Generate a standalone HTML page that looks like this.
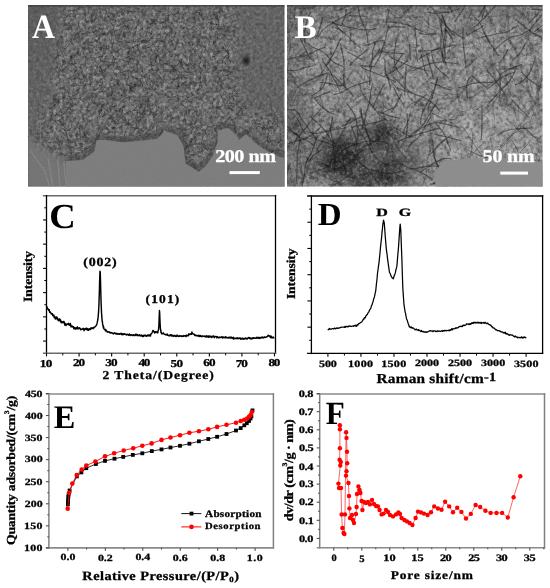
<!DOCTYPE html>
<html><head><meta charset="utf-8"><title>Figure</title>
<style>html,body{margin:0;padding:0;background:#fff;width:550px;height:588px;overflow:hidden}svg{display:block}</style>
</head><body>
<svg width="550" height="588" viewBox="0 0 550 588" font-family="'Liberation Serif', 'Times New Roman', serif" text-rendering="geometricPrecision">
<rect width="550" height="588" fill="#fff"/>
<defs>
<clipPath id="cA"><rect x="28" y="5" width="256.5" height="181.5"/></clipPath>
<clipPath id="cB"><rect x="287" y="5" width="255.5" height="181.5"/></clipPath>
<filter id="fD" x="0" y="0" width="100%" height="100%"><feTurbulence type="fractalNoise" baseFrequency="0.3" numOctaves="3" seed="4"/><feColorMatrix type="matrix" values="0 0 0 0 0  0 0 0 0 0  0 0 0 0 0  1.3 0 0 0 -0.55"/><feGaussianBlur stdDeviation="0.45"/></filter>
<filter id="fL" x="0" y="0" width="100%" height="100%"><feTurbulence type="fractalNoise" baseFrequency="0.3" numOctaves="3" seed="9"/><feColorMatrix type="matrix" values="0 0 0 0 1  0 0 0 0 1  0 0 0 0 1  1.1 0 0 0 -0.5"/><feGaussianBlur stdDeviation="0.45"/></filter>
<filter id="fM" x="0" y="0" width="100%" height="100%"><feTurbulence type="fractalNoise" baseFrequency="0.08" numOctaves="2" seed="21"/><feColorMatrix type="matrix" values="0 0 0 0 0  0 0 0 0 0  0 0 0 0 0  1.2 0 0 0 -0.5"/></filter>
<filter id="fS" x="0" y="0" width="100%" height="100%"><feTurbulence type="fractalNoise" baseFrequency="0.7" numOctaves="1" seed="12"/><feColorMatrix type="matrix" values="0 0 0 0 0.5  0 0 0 0 0.5  0 0 0 0 0.5  0.8 0 0 0 -0.3"/></filter>
<filter id="tA" x="0" y="0" width="100%" height="100%"><feTurbulence type="turbulence" baseFrequency="0.07" numOctaves="2" seed="3"/><feColorMatrix type="matrix" values="0 0 0 0 0  0 0 0 0 0  0 0 0 0 0  -6 0 0 0 0.6"/><feGaussianBlur stdDeviation="0.35"/></filter>
<filter id="tB" x="0" y="0" width="100%" height="100%"><feTurbulence type="turbulence" baseFrequency="0.028" numOctaves="1" seed="17"/><feColorMatrix type="matrix" values="0 0 0 0 0  0 0 0 0 0  0 0 0 0 0  -30 0 0 0 0.9"/><feGaussianBlur stdDeviation="0.45"/></filter>
<filter id="fML" x="0" y="0" width="100%" height="100%"><feTurbulence type="fractalNoise" baseFrequency="0.09" numOctaves="2" seed="33"/><feColorMatrix type="matrix" values="0 0 0 0 1  0 0 0 0 1  0 0 0 0 1  1.4 0 0 0 -0.6"/></filter>
<filter id="bl1" x="-10%" y="-10%" width="120%" height="120%"><feGaussianBlur stdDeviation="1.5"/></filter>
<filter id="bl3" x="-20%" y="-20%" width="140%" height="140%"><feGaussianBlur stdDeviation="4"/></filter>
<filter id="bl4" x="-20%" y="-20%" width="140%" height="140%"><feGaussianBlur stdDeviation="5.5"/></filter>
<filter id="bl6" x="-30%" y="-30%" width="160%" height="160%"><feGaussianBlur stdDeviation="7"/></filter>
<filter id="fb" x="-10%" y="-10%" width="120%" height="120%"><feGaussianBlur stdDeviation="0.3"/></filter>
<filter id="fb2" x="-10%" y="-10%" width="120%" height="120%"><feGaussianBlur stdDeviation="0.5"/></filter>
<radialGradient id="spotA"><stop offset="0" stop-color="#101010" stop-opacity="0.95"/><stop offset="0.5" stop-color="#202020" stop-opacity="0.6"/><stop offset="1" stop-color="#202020" stop-opacity="0"/></radialGradient>
</defs>
<g clip-path="url(#cA)">
<rect x="28" y="5" width="257" height="182" fill="#636363"/>
<rect x="28" y="5" width="257" height="182" filter="url(#fD)" opacity="0.45"/>
<rect x="28" y="5" width="257" height="182" filter="url(#fL)" opacity="0.35"/>
<path d="M28,138 L36,144 L50,151 L62,157 L68,161 L66,187 L28,187 Z" fill="#737373" filter="url(#bl1)"/>
<linearGradient id="gAl" x1="0" x2="0" y1="0" y2="1"><stop offset="0" stop-color="#4a4a4a" stop-opacity="0.35"/><stop offset="1" stop-color="#4a4a4a" stop-opacity="0"/></linearGradient>
<rect x="28" y="5" width="30" height="110" fill="url(#gAl)"/>
<mask id="mAt"><path d="M62.0,5.0 L240.0,5.0 L238.0,20.0 L236.0,50.0 L238.0,80.0 L242.0,100.0 L262.0,112.0 L285.0,115.0 L285.0,158.0 L278.0,156.5 L266.0,150.6 L254.3,142.3 L246.0,134.0 L239.0,140.0 L236.6,135.2 L228.3,128.0 L217.6,130.5 L217.6,142.3 L212.9,155.3 L205.8,166.0 L198.7,171.8 L185.7,163.6 L183.4,145.8 L177.5,135.2 L164.5,130.5 L158.0,138.7 L139.0,141.0 L122.6,142.3 L106.0,140.0 L96.6,140.0 L94.2,151.7 L82.4,160.0 L70.0,161.0 L60.0,156.0 L48.0,150.0 L36.0,144.0 L33.0,134.0 L40.0,120.0 L49.0,100.0 L52.0,80.0 L57.0,40.0 Z" fill="#fff" filter="url(#bl4)"/></mask>
<g mask="url(#mAt)"><rect x="28" y="5" width="257" height="182" fill="#707070"/>
<rect x="28" y="5" width="257" height="182" filter="url(#fD)" opacity="0.8"/><rect x="28" y="5" width="257" height="182" filter="url(#fL)" opacity="0.8"/>
<rect x="28" y="5" width="257" height="182" filter="url(#fM)" opacity="0.4"/>
<rect x="28" y="5" width="257" height="182" filter="url(#tA)" opacity="0.6"/>
<g filter="url(#fb)"><g fill="none" stroke="#151515" stroke-width="0.7" stroke-opacity="0.45" stroke-linecap="round"><path d="M153.5,116.3 151.7,111.3 148.4,107.1"/><path d="M48.8,139.4 45.9,141.2 42.6,142.0"/><path d="M134.5,58.9 128.8,58.6 123.5,56.5"/><path d="M101.2,51.2 98.4,53.0 95.2,53.7"/><path d="M237.1,104.5 237.0,99.3 235.7,94.3"/><path d="M276.0,120.0 280.7,116.9 286.0,115.0"/><path d="M120.8,11.5 116.5,13.1 113.0,16.1 110.5,19.9"/><path d="M192.2,94.8 189.9,90.2 186.6,86.3 185.6,81.3"/><path d="M53.9,74.8 49.8,71.6 45.6,68.6 42.0,72.3"/><path d="M233.7,8.7 230.6,5.1 231.5,0.5"/><path d="M113.3,70.5 117.3,67.2 122.2,65.8 127.0,63.9"/><path d="M112.9,20.1 109.4,18.0 106.9,14.7 106.4,10.6"/><path d="M124.0,20.1 122.4,23.4 119.2,25.3"/><path d="M71.8,40.6 72.5,36.0 74.9,32.0 77.7,28.3"/><path d="M174.7,60.1 175.0,56.0 178.9,54.9 181.5,51.8"/><path d="M146.1,81.2 144.1,76.2 139.2,73.8"/><path d="M183.2,141.2 183.4,135.9 182.5,130.7 178.5,127.3"/><path d="M136.9,63.0 137.6,68.1 137.4,73.2"/><path d="M62.5,59.9 63.6,64.1 61.3,67.6"/><path d="M169.0,121.9 172.9,117.5 178.8,116.8"/><path d="M183.4,61.3 184.7,63.9 187.3,65.1"/><path d="M188.6,34.1 192.5,35.9 196.4,37.8 200.7,36.9"/><path d="M226.0,38.0 229.6,41.6 232.9,45.5 235.4,49.9"/><path d="M223.5,31.0 224.3,27.5 223.2,24.2"/><path d="M69.4,139.5 66.1,136.5 63.0,133.2 59.8,130.1"/><path d="M115.0,140.2 118.5,143.1 122.2,145.8 126.2,148.1"/><path d="M140.6,27.9 144.4,30.8 148.9,32.5 153.1,34.7"/><path d="M190.9,166.8 192.2,163.1 193.6,159.4"/><path d="M209.8,151.6 212.7,156.9 217.0,161.1"/><path d="M196.6,91.0 198.8,94.9 202.0,98.0"/><path d="M63.4,43.8 62.3,39.4 59.9,35.5"/><path d="M236.5,86.1 234.8,88.2 233.5,90.5"/><path d="M211.6,156.1 214.9,159.2 218.4,162.0"/><path d="M177.9,68.5 173.7,70.1 169.9,72.4"/><path d="M54.9,58.9 54.0,64.0 57.5,67.9 61.4,71.3"/><path d="M212.9,29.9 217.5,28.3 222.4,28.8"/><path d="M195.9,144.6 195.5,139.6 195.0,134.5"/><path d="M84.6,141.3 86.9,138.6 90.4,137.7"/><path d="M125.4,45.7 121.9,47.7 118.8,50.4 114.9,51.3"/><path d="M110.5,96.8 112.5,92.0 110.7,87.2"/><path d="M148.4,16.2 144.7,12.9 139.9,11.5"/><path d="M115.6,58.7 113.6,62.9 110.0,65.8 106.7,69.0"/><path d="M59.9,142.7 56.5,138.6 54.3,133.8"/><path d="M125.8,113.3 130.1,111.4 133.8,114.2 136.9,117.7"/><path d="M234.7,124.4 235.7,129.5 234.7,134.7 234.2,139.9"/><path d="M156.8,127.4 157.9,124.8 158.4,122.0"/><path d="M154.8,90.9 151.7,87.4 147.6,85.0 145.5,80.9"/><path d="M205.2,86.1 207.8,82.9 210.3,79.7"/><path d="M99.6,49.8 102.2,48.5 105.1,49.0"/><path d="M70.6,110.1 69.3,112.4 70.0,114.8"/><path d="M110.6,7.6 112.2,4.0 116.2,4.1"/><path d="M221.5,33.8 225.0,36.6 228.7,39.2 232.9,40.7"/><path d="M76.7,157.9 76.2,154.0 79.8,152.6"/><path d="M220.9,28.4 217.9,31.7 217.3,36.1"/><path d="M197.3,77.6 200.7,81.1 201.2,85.9"/><path d="M149.1,42.9 143.4,42.3 137.8,41.0"/><path d="M164.0,22.3 159.8,22.3 156.2,20.1 152.0,19.6"/><path d="M81.5,155.9 78.6,159.9 77.0,164.5 78.4,169.2"/><path d="M68.5,152.0 72.3,154.4 76.6,155.2"/><path d="M85.5,141.1 81.7,138.7 77.2,138.8 74.6,135.2"/><path d="M212.2,108.4 216.6,107.4 221.1,106.2"/><path d="M186.5,143.8 189.2,145.2 192.1,145.0"/><path d="M72.9,105.4 68.5,102.8 63.3,102.7"/><path d="M122.1,29.2 120.2,34.0 118.5,38.9"/><path d="M36.8,142.4 33.9,141.9 31.1,141.1"/><path d="M118.4,132.2 114.1,131.8 109.7,132.0 106.2,134.6"/><path d="M136.8,36.8 141.5,40.4 147.4,41.3"/><path d="M104.6,103.4 101.3,107.4 100.8,112.5 97.2,116.2"/><path d="M187.3,145.7 182.5,144.4 177.7,146.1"/><path d="M58.2,33.2 61.8,31.1 65.5,29.4 69.7,29.4"/><path d="M82.7,7.3 77.6,8.6 72.9,10.7 67.6,10.6"/><path d="M111.7,97.7 113.3,102.2 111.9,106.8"/><path d="M62.9,14.8 63.3,10.3 65.1,6.2"/><path d="M193.8,155.3 188.9,154.2 184.0,153.2 180.0,156.3"/><path d="M241.2,104.0 241.2,108.3 239.0,112.0"/><path d="M116.9,118.6 119.0,122.4 123.4,122.2 127.4,123.9"/><path d="M198.1,38.0 200.9,40.8 202.6,44.4"/><path d="M229.6,57.4 227.0,58.0 224.3,57.5"/><path d="M193.1,114.8 196.2,119.1 195.2,124.4"/><path d="M90.8,84.7 90.1,80.0 89.7,75.2 93.1,71.8"/><path d="M128.1,140.9 124.8,144.4 122.2,148.4"/><path d="M98.4,29.2 100.9,28.7 103.2,29.7"/><path d="M168.8,14.9 168.6,19.9 163.9,21.6 159.4,23.8"/><path d="M122.7,99.6 128.1,97.2 133.9,95.5"/><path d="M235.3,127.2 234.3,131.2 232.7,134.9 232.7,139.0"/><path d="M163.0,63.8 163.2,67.8 165.3,71.3"/><path d="M154.5,9.9 158.9,11.8 163.7,11.6 167.9,9.3"/><path d="M131.8,11.9 126.5,9.9 122.1,13.5"/><path d="M72.5,75.5 76.4,74.7 78.7,71.4"/><path d="M186.2,52.8 183.4,48.2 182.6,42.9"/><path d="M98.1,74.9 94.7,70.0 90.3,66.1"/><path d="M113.0,138.2 116.2,140.5 119.1,143.1"/><path d="M201.0,37.6 198.6,41.9 195.8,45.9 192.4,49.5"/><path d="M209.3,44.5 210.3,39.2 209.5,33.8"/><path d="M97.6,103.9 102.1,104.3 106.6,104.1"/><path d="M157.2,69.8 162.6,69.5 167.9,70.2"/><path d="M133.4,102.3 136.3,99.5 139.5,97.0 142.2,93.9"/><path d="M270.8,151.9 275.9,150.2 281.3,150.0"/><path d="M187.6,80.8 183.0,83.1 178.0,81.8"/><path d="M255.2,109.5 255.8,113.7 256.1,117.9 258.8,121.1"/><path d="M79.8,55.3 82.2,50.3 85.6,45.9"/><path d="M142.6,76.4 147.0,77.0 150.6,79.4 152.7,83.3"/><path d="M137.9,54.6 133.8,52.3 129.9,49.6"/><path d="M198.1,32.4 193.7,29.7 188.7,28.5 183.7,27.2"/><path d="M276.5,123.1 273.1,127.0 270.2,131.3 266.6,135.0"/><path d="M48.9,120.3 53.2,120.0 56.8,122.4 59.8,125.5"/><path d="M205.7,149.2 201.1,151.8 196.2,154.0 191.2,155.7"/><path d="M123.0,35.1 125.4,37.1 128.4,38.1"/><path d="M136.1,47.0 138.8,50.4 140.2,54.5 139.9,58.9"/><path d="M129.4,91.2 126.1,89.0 123.0,86.5 120.3,83.5"/><path d="M230.6,73.6 225.8,75.8 220.6,74.9 215.3,75.5"/><path d="M178.6,75.6 176.3,73.9 174.3,71.8"/><path d="M45.6,122.8 48.2,124.6 47.6,127.7"/><path d="M76.7,67.6 79.6,70.6 82.4,73.7 84.4,77.5"/><path d="M234.3,111.0 231.5,109.9 228.9,108.2"/><path d="M125.4,26.5 124.5,22.0 123.9,17.5"/><path d="M79.4,28.1 78.0,22.3 82.5,18.5"/><path d="M220.1,77.1 218.1,81.0 217.3,85.2 216.7,89.5"/><path d="M199.1,163.3 195.7,166.4 191.2,166.7 190.9,162.1"/><path d="M89.1,143.6 84.1,144.3 79.2,143.6"/><path d="M126.7,95.7 122.0,97.6 117.6,100.2 112.9,98.3"/><path d="M191.1,116.5 189.0,114.0 188.7,110.7"/><path d="M205.8,68.8 204.8,64.1 205.7,59.5 202.7,55.8"/><path d="M74.8,17.1 69.9,16.2 65.1,14.9"/><path d="M181.8,100.4 186.5,102.3 191.5,101.6"/><path d="M154.0,138.2 157.8,141.2 162.6,141.9"/><path d="M100.5,13.0 99.7,9.3 99.6,5.6"/><path d="M181.1,103.2 184.0,106.6 187.0,110.0 186.5,114.4"/><path d="M66.3,36.2 70.9,39.2 73.0,44.4"/><path d="M163.6,81.5 160.0,77.3 156.8,72.8"/><path d="M197.3,134.7 194.7,138.1 191.2,140.5 189.9,144.6"/><path d="M192.5,159.5 189.2,161.2 186.2,163.2"/><path d="M59.8,147.6 55.2,149.0 51.8,152.4"/><path d="M79.9,64.7 84.6,64.0 89.3,63.8"/><path d="M77.4,131.0 77.0,135.2 76.5,139.4"/><path d="M56.5,92.7 53.5,96.5 53.9,101.4 54.7,106.1"/><path d="M151.5,19.4 151.0,22.5 150.7,25.6"/><path d="M55.1,153.2 52.7,150.6 51.1,147.5"/><path d="M108.5,137.3 104.5,139.4 100.2,140.9 95.8,140.6"/><path d="M102.3,91.5 104.0,87.7 106.4,84.3 110.2,82.7"/><path d="M85.1,155.7 82.3,151.7 79.3,147.9 75.4,145.0"/><path d="M162.9,52.7 158.1,55.0 153.3,57.4"/><path d="M56.8,118.2 53.3,115.1 52.3,110.6 52.0,106.0"/><path d="M159.1,100.5 155.2,103.0 151.6,105.7 147.3,107.2"/><path d="M63.4,50.4 60.5,51.9 57.2,52.2"/><path d="M231.0,96.9 234.0,95.6 237.2,96.4"/><path d="M123.1,106.1 122.4,110.0 121.4,113.8"/><path d="M206.0,134.7 205.1,130.5 201.9,127.5 198.5,124.7"/><path d="M166.5,78.5 170.5,81.5 173.9,85.2 178.7,86.8"/><path d="M99.7,125.9 105.0,123.2 108.8,118.7"/><path d="M199.7,144.1 195.1,143.8 190.9,145.6 186.7,147.6"/><path d="M113.1,20.5 113.8,14.9 118.8,12.1"/><path d="M145.6,36.3 146.8,34.0 145.5,31.8"/><path d="M143.7,48.8 147.6,47.8 151.3,46.3 153.3,42.9"/><path d="M53.4,150.4 51.3,148.4 49.7,146.1"/><path d="M274.9,125.0 272.0,123.6 270.8,120.5"/><path d="M177.6,77.7 180.9,77.8 184.1,77.5"/><path d="M104.1,43.2 104.0,48.4 103.2,53.6 102.3,58.7"/><path d="M196.1,92.9 201.8,94.2 207.3,96.1"/><path d="M94.5,20.3 96.2,15.2 97.6,10.0"/><path d="M143.0,130.8 139.0,129.1 134.8,127.8 130.4,127.7"/><path d="M117.6,123.5 115.0,123.2 112.6,124.2"/><path d="M190.5,49.6 191.4,53.5 189.5,57.1 189.5,61.1"/><path d="M138.0,82.0 134.4,85.9 130.2,89.3"/><path d="M97.1,137.0 98.8,141.5 95.7,145.1 92.5,148.6"/><path d="M270.3,130.7 266.0,129.3 261.7,130.8"/><path d="M68.1,102.3 70.3,98.8 72.9,95.7 76.8,94.4"/><path d="M55.7,98.5 56.4,103.5 52.5,106.8 48.5,110.0"/><path d="M123.2,125.6 119.7,127.5 115.7,128.4 111.6,128.0"/><path d="M87.2,90.7 89.8,88.6 92.0,86.2"/><path d="M155.2,48.0 154.2,52.2 157.1,55.4 156.3,59.6"/><path d="M62.3,11.3 65.6,8.1 68.6,4.6 71.7,1.3"/><path d="M174.2,109.7 171.9,113.8 168.2,116.9 164.4,119.8"/><path d="M225.1,47.2 225.6,50.4 227.7,52.8"/><path d="M87.4,110.5 87.9,105.4 89.3,100.4 91.7,95.8"/><path d="M196.2,128.2 193.8,127.6 192.2,125.6"/><path d="M226.2,54.9 223.7,59.0 222.0,63.4 222.1,68.2"/><path d="M182.1,60.1 179.9,62.5 177.6,64.8"/><path d="M67.0,129.1 63.8,126.6 61.3,123.4 60.1,119.5"/><path d="M99.2,87.0 96.5,89.7 92.6,89.8"/><path d="M217.1,15.7 217.2,18.4 218.5,20.9"/><path d="M96.1,81.4 100.3,82.8 104.5,81.6"/><path d="M198.5,10.2 200.9,9.1 203.2,10.3"/><path d="M187.2,135.2 184.4,136.2 181.5,136.7"/><path d="M200.8,82.5 195.0,82.6 189.1,82.7"/><path d="M71.7,18.6 70.0,22.5 68.7,26.6"/><path d="M219.8,6.8 219.2,11.9 214.1,12.0 209.1,10.7"/><path d="M268.1,128.3 263.7,127.1 260.3,124.1 255.9,123.0"/><path d="M140.5,22.3 137.1,25.1 135.2,29.1 132.8,32.8"/><path d="M131.0,130.0 128.6,131.8 125.7,132.5"/><path d="M113.2,46.8 111.5,42.4 111.1,37.6"/><path d="M162.8,65.5 167.3,63.4 169.2,58.9"/><path d="M185.4,85.5 189.8,84.4 194.4,83.7 198.9,82.7"/><path d="M194.1,143.0 195.8,140.3 196.9,137.3"/><path d="M241.0,99.9 238.2,103.9 233.6,105.8 228.7,105.6"/><path d="M140.4,115.3 143.3,112.1 144.9,108.1 145.1,103.9"/><path d="M208.9,22.2 213.9,24.1 219.3,24.7"/><path d="M265.6,128.8 268.2,128.6 270.9,128.2"/><path d="M132.5,58.6 130.8,54.7 128.1,51.5"/><path d="M194.2,62.9 194.3,67.7 196.0,72.2 199.6,75.4"/><path d="M225.9,47.2 224.4,42.7 223.7,38.1 225.9,33.9"/><path d="M102.1,115.2 97.3,117.4 97.2,122.7 98.8,127.7"/><path d="M175.9,70.1 172.0,69.0 168.8,71.5 164.7,71.0"/><path d="M105.6,68.4 104.6,72.0 101.2,73.4"/><path d="M118.5,80.4 114.6,79.1 110.9,80.8"/><path d="M77.4,33.8 82.3,33.5 87.3,33.8 91.9,32.0"/><path d="M174.1,67.5 169.7,65.2 164.9,63.9 161.6,60.2"/><path d="M128.6,32.3 125.4,32.5 122.6,33.9"/><path d="M227.8,101.2 229.2,98.7 229.7,95.9"/><path d="M238.9,93.5 235.6,93.9 233.1,96.1"/><path d="M141.3,11.7 143.2,8.8 144.5,5.6"/><path d="M127.2,124.7 125.5,119.1 122.0,114.4"/><path d="M150.2,60.9 151.9,65.0 152.1,69.4 154.0,73.4"/><path d="M192.7,37.1 193.0,32.2 196.1,28.4"/><path d="M271.9,128.3 272.7,123.7 274.8,119.5"/><path d="M39.9,139.8 42.0,136.0 41.1,131.6"/><path d="M76.1,135.9 77.6,138.7 78.4,141.7"/><path d="M268.0,120.9 273.0,120.5 276.4,124.2 280.1,127.5"/><path d="M209.1,46.3 208.4,51.1 209.8,55.7 211.1,60.3"/><path d="M85.7,77.1 87.0,81.2 85.6,85.3 82.3,88.1"/><path d="M62.3,53.0 65.9,48.7 69.3,44.2"/><path d="M201.8,147.9 205.4,148.9 209.0,149.5"/><path d="M98.5,30.8 101.3,33.3 104.8,34.9"/><path d="M125.9,84.6 130.7,85.2 135.5,84.9 140.3,84.5"/><path d="M86.8,133.4 82.9,136.4 78.4,138.6"/><path d="M148.9,99.2 146.9,103.6 148.4,108.2 153.2,109.3"/><path d="M58.7,148.6 60.3,154.0 62.3,159.2"/><path d="M59.8,46.0 60.7,50.3 62.9,54.1 64.2,58.3"/><path d="M111.7,62.5 114.2,64.0 116.9,63.0"/><path d="M128.1,88.6 126.0,90.6 123.1,90.8"/><path d="M111.9,121.1 117.2,121.5 121.2,118.1 124.4,113.9"/><path d="M119.5,15.6 121.3,20.8 125.0,25.1"/><path d="M144.9,135.2 147.2,130.8 152.0,129.3 154.0,124.6"/><path d="M46.5,124.4 43.8,124.0 41.1,123.3"/><path d="M264.3,126.7 263.9,121.6 260.9,117.4"/><path d="M195.0,164.4 192.2,161.1 188.0,160.0 185.4,156.5"/><path d="M230.7,62.7 228.6,57.9 228.2,52.8"/><path d="M229.5,88.5 224.7,84.9 220.0,81.2"/><path d="M145.7,21.2 150.9,23.6 156.6,23.5"/><path d="M267.8,118.3 268.8,123.3 271.2,127.8"/><path d="M169.2,32.7 169.4,35.8 169.8,38.9"/><path d="M268.5,133.4 267.7,138.5 267.9,143.6 265.7,148.2"/><path d="M239.4,88.0 243.0,84.9 247.6,85.6 251.8,83.3"/><path d="M92.7,148.0 88.1,150.7 82.8,150.5"/><path d="M200.9,73.5 200.8,76.5 200.2,79.4"/><path d="M91.6,27.4 93.5,32.2 96.5,36.4"/><path d="M211.9,128.0 209.6,127.0 207.1,127.4"/><path d="M41.9,144.0 44.8,147.1 48.4,149.2"/><path d="M67.9,95.7 71.5,98.4 76.0,98.9 80.4,98.0"/><path d="M49.1,105.7 53.1,102.6 54.9,97.8"/><path d="M214.5,54.2 219.5,53.1 222.9,49.2 224.5,44.2"/><path d="M189.8,77.6 193.3,77.8 196.3,79.7"/><path d="M181.1,82.2 176.3,78.7 170.4,79.1"/><path d="M233.5,69.5 238.5,70.7 243.7,70.2"/><path d="M223.2,49.9 219.1,51.6 214.7,51.6"/><path d="M160.3,93.7 165.5,95.0 170.1,97.6 175.3,96.8"/><path d="M129.3,54.2 129.6,59.4 128.1,64.4"/><path d="M206.9,143.4 208.4,147.8 210.9,151.7"/><path d="M182.3,65.5 180.0,62.2 178.4,58.6"/><path d="M151.8,43.7 155.6,48.0 158.6,53.0"/><path d="M129.3,82.8 133.3,84.5 137.4,86.1 141.6,86.7"/><path d="M125.8,61.4 122.2,59.5 118.1,59.1 114.1,59.0"/><path d="M106.1,42.9 106.4,46.7 105.8,50.4"/><path d="M271.7,133.4 270.9,128.5 267.1,125.3 262.2,125.2"/><path d="M160.2,57.6 164.2,55.0 167.8,52.0 172.5,51.2"/><path d="M94.4,146.2 98.5,149.0 103.5,149.3"/><path d="M62.4,24.1 57.7,25.5 55.8,21.1 53.9,16.6"/><path d="M67.5,120.0 62.9,120.0 61.4,115.7 57.0,114.4"/><path d="M118.7,53.0 115.2,52.1 113.1,49.3"/><path d="M197.8,117.0 196.2,112.5 192.9,109.1"/><path d="M95.0,140.2 97.3,138.4 98.5,135.7"/><path d="M86.5,56.0 85.2,60.8 85.4,65.8 81.1,68.4"/><path d="M87.9,121.3 91.7,122.9 92.6,126.9 90.8,130.7"/><path d="M112.7,119.8 110.4,124.6 106.6,128.2 101.8,130.1"/><path d="M105.2,80.4 103.2,75.8 101.5,71.2 100.0,66.4"/><path d="M118.5,22.3 119.9,20.1 122.0,18.5"/><path d="M59.8,93.1 55.7,95.7 51.8,98.5 49.3,102.7"/><path d="M142.0,135.6 145.2,133.8 148.7,133.4"/><path d="M111.5,110.4 109.4,108.9 109.9,106.4"/><path d="M209.7,126.5 215.0,125.6 220.3,125.3"/><path d="M63.8,121.9 60.3,122.4 57.5,120.4"/><path d="M207.6,17.6 209.3,12.0 212.4,7.0"/><path d="M112.6,112.2 117.8,115.0 123.3,116.9"/><path d="M60.9,70.5 66.2,67.8 69.2,62.6"/><path d="M217.3,83.2 220.8,86.2 224.0,89.5 226.8,93.2"/><path d="M172.5,51.0 175.7,48.3 176.4,44.1 178.0,40.2"/><path d="M277.1,119.1 277.9,113.8 276.8,108.7 276.9,103.4"/><path d="M132.0,53.1 129.7,48.2 126.5,43.8"/><path d="M99.1,42.8 96.0,40.8 92.8,39.0"/><path d="M170.9,5.3 169.4,3.1 166.8,2.2"/><path d="M128.8,124.4 133.0,121.4 137.8,119.8"/><path d="M87.9,74.0 84.9,78.9 83.0,84.4"/><path d="M95.4,75.0 97.1,71.0 97.3,66.5"/><path d="M127.9,126.0 128.4,122.2 129.0,118.3"/><path d="M131.6,104.4 135.6,107.4 139.3,110.9 140.3,115.9"/><path d="M167.5,92.3 170.8,91.3 174.1,91.0"/><path d="M143.8,111.7 144.8,109.1 146.5,106.8"/><path d="M79.4,125.9 79.3,130.0 80.3,134.0 81.0,138.1"/><path d="M261.7,127.6 262.9,131.6 265.4,135.1 265.0,139.3"/><path d="M152.5,95.1 147.3,96.3 142.0,96.8"/><path d="M235.4,14.1 230.5,16.1 225.4,17.6"/><path d="M213.7,35.9 216.2,36.8 218.0,38.8"/><path d="M146.7,136.7 141.9,133.7 137.2,130.6"/><path d="M205.1,47.6 201.9,46.4 199.0,44.8"/><path d="M121.9,90.7 120.2,86.5 117.7,82.8"/><path d="M67.9,108.3 66.2,112.7 61.7,114.4"/><path d="M195.4,53.4 194.0,49.1 190.3,46.4 188.4,42.3"/><path d="M236.5,61.9 239.1,67.0 241.7,72.1"/><path d="M239.6,88.8 243.5,92.5 247.2,96.4"/><path d="M275.5,141.1 271.6,141.8 268.0,143.6"/><path d="M91.1,22.3 92.9,24.9 94.2,27.9"/><path d="M198.6,90.4 201.6,87.5 204.2,84.2 206.3,80.5"/><path d="M132.0,87.0 136.7,86.2 141.4,85.3 144.9,82.2"/><path d="M115.2,117.7 120.1,117.3 124.2,120.2"/><path d="M222.5,120.5 220.3,125.9 215.2,128.6"/><path d="M180.3,130.1 185.2,130.2 189.9,128.5"/><path d="M136.0,78.2 140.6,79.1 140.6,83.7 141.2,88.3"/><path d="M156.7,54.1 159.5,58.6 160.1,63.8"/><path d="M94.6,46.8 99.3,47.4 104.1,47.1 108.7,46.0"/><path d="M176.0,91.8 177.8,96.7 180.9,100.9"/><path d="M148.8,21.9 145.5,19.4 142.5,16.5"/><path d="M128.7,11.3 133.6,12.5 137.9,15.3"/><path d="M102.8,8.0 103.7,3.7 105.1,-0.4 108.3,-3.4"/><path d="M217.1,43.5 215.0,47.5 211.7,50.6"/><path d="M92.3,7.9 87.7,6.9 83.0,7.4"/><path d="M138.3,44.6 133.6,47.2 128.4,48.7"/><path d="M277.3,127.9 277.8,123.1 277.9,118.2 275.3,114.2"/><path d="M91.3,44.7 95.3,48.1 98.0,52.6 101.4,56.5"/><path d="M108.8,33.5 112.7,32.7 116.2,30.8 120.0,29.3"/><path d="M254.2,126.8 256.8,129.6 259.5,132.2"/><path d="M215.2,42.1 215.0,36.4 216.7,30.9"/><path d="M113.1,42.2 112.5,46.9 110.7,51.1 112.3,55.5"/><path d="M209.6,159.5 208.4,162.3 207.0,165.0"/><path d="M66.8,62.8 71.6,64.1 76.5,63.7 81.5,64.0"/><path d="M93.5,51.0 91.9,53.2 90.4,55.7"/><path d="M124.2,14.8 122.5,11.1 121.0,7.3 122.0,3.3"/><path d="M137.9,112.4 142.2,113.8 146.6,114.6 151.0,114.5"/><path d="M177.7,25.4 181.0,22.0 182.6,17.6 184.0,13.1"/><path d="M183.7,88.1 189.2,87.6 190.4,82.2"/><path d="M206.4,45.6 205.1,48.9 204.4,52.4"/><path d="M99.3,40.0 98.8,35.4 101.8,31.9 103.6,27.6"/><path d="M163.5,57.8 160.8,57.9 158.2,58.8"/><path d="M202.9,18.7 203.1,23.2 203.8,27.6"/><path d="M232.8,21.1 231.2,23.1 231.0,25.7"/><path d="M167.2,27.6 165.3,22.7 165.9,17.6 164.3,12.6"/><path d="M117.4,124.1 115.2,120.7 111.3,119.8 107.9,117.6"/><path d="M178.2,12.5 174.4,14.5 173.2,18.7 174.3,22.9"/><path d="M67.9,138.6 66.5,133.8 64.4,129.3"/><path d="M120.3,72.0 118.9,69.1 116.4,67.0"/><path d="M137.4,45.1 134.4,46.0 132.0,48.1"/><path d="M153.3,65.9 158.4,63.5 163.7,65.4"/><path d="M132.4,55.6 131.4,51.8 130.7,48.0"/><path d="M204.2,134.2 202.5,137.6 201.9,141.3"/><path d="M126.7,71.9 121.3,70.4 115.9,68.8"/><path d="M150.1,88.7 146.7,90.5 142.8,90.1"/><path d="M123.9,32.7 123.0,36.5 120.4,39.5"/><path d="M63.9,154.5 61.1,153.9 58.5,155.0"/><path d="M209.5,37.2 208.7,34.5 206.2,33.3"/><path d="M216.2,107.1 220.9,110.3 224.6,114.6"/><path d="M272.7,115.4 276.6,114.7 280.5,113.9 284.5,113.8"/><path d="M94.3,38.4 96.7,36.7 97.4,33.7"/><path d="M176.6,101.2 180.5,96.9 186.1,95.2"/><path d="M232.5,109.3 228.5,107.5 227.1,103.3"/><path d="M130.1,103.1 129.5,99.6 129.2,96.1"/><path d="M277.1,119.1 275.2,115.0 273.3,110.9"/><path d="M43.2,130.3 46.5,132.6 50.5,133.2 53.2,130.3"/><path d="M121.1,49.3 119.6,44.7 117.3,40.4"/><path d="M217.9,122.7 222.8,122.9 227.0,120.4 230.1,116.5"/><path d="M131.0,63.9 127.1,64.7 124.4,67.7"/><path d="M97.8,102.5 92.1,103.8 86.9,106.3"/><path d="M130.0,11.0 130.0,5.8 131.6,1.0 133.1,-3.9"/><path d="M88.7,12.9 88.9,8.5 87.5,4.4 88.7,0.1"/><path d="M106.2,61.7 111.3,62.8 116.6,62.1"/><path d="M180.2,129.0 175.4,127.7 171.4,130.7 166.7,132.1"/><path d="M279.2,155.1 275.2,150.8 269.4,149.8"/><path d="M92.2,112.4 90.4,115.1 88.0,117.3"/><path d="M176.8,43.6 174.1,40.3 173.8,36.0 175.9,32.3"/><path d="M116.0,39.0 114.7,33.3 113.3,27.6"/><path d="M149.7,64.6 152.8,61.0 155.4,57.0 156.0,52.3"/><path d="M160.2,11.9 158.6,16.3 156.3,20.5 151.6,20.8"/><path d="M165.7,36.1 161.0,38.4 155.8,38.7 150.7,38.1"/><path d="M225.2,104.8 222.6,99.4 220.1,94.0"/><path d="M62.2,91.9 62.9,96.9 63.4,101.9"/><path d="M283.8,139.0 285.9,141.4 286.6,144.6"/><path d="M137.8,117.6 136.9,112.5 139.7,108.1 142.3,103.6"/><path d="M121.5,109.8 118.0,108.2 114.8,106.1"/><path d="M190.9,118.4 194.0,120.9 195.0,124.8"/><path d="M55.1,101.4 60.2,99.5 65.2,97.3"/><path d="M227.5,115.1 222.3,117.2 217.5,114.3"/><path d="M144.0,95.2 147.9,91.9 152.3,89.4 152.9,84.3"/><path d="M236.5,14.5 240.8,14.3 245.0,13.6 248.9,11.7"/><path d="M136.0,126.9 137.0,122.1 135.7,117.4"/><path d="M90.0,54.0 89.2,49.7 88.3,45.3 86.9,41.1"/><path d="M129.1,78.2 128.5,75.4 128.1,72.5"/><path d="M202.6,133.9 198.4,133.0 194.2,134.2"/><path d="M105.1,109.0 104.7,113.0 102.9,116.6"/><path d="M174.5,39.9 169.6,41.2 166.9,45.5 164.8,50.2"/><path d="M137.6,140.3 135.5,145.0 131.7,148.5"/><path d="M142.7,138.5 139.9,135.4 139.2,131.3 137.8,127.4"/><path d="M102.4,78.5 99.2,80.8 97.2,84.2"/><path d="M227.4,31.0 228.0,28.4 228.0,25.7"/><path d="M203.2,11.3 199.1,12.4 194.8,12.8"/><path d="M214.5,118.6 217.0,113.1 216.4,107.2"/><path d="M163.0,111.7 163.5,108.8 163.3,105.9"/><path d="M87.5,98.8 91.5,95.1 96.1,98.1"/><path d="M171.3,31.1 167.2,33.7 165.4,38.2 162.4,42.1"/><path d="M190.1,63.5 194.7,67.0 195.9,72.6"/><path d="M146.5,119.0 144.7,121.0 145.9,123.4"/><path d="M59.9,83.1 58.9,78.0 59.1,72.8 59.2,67.6"/><path d="M151.2,68.4 148.7,72.7 144.6,75.5"/><path d="M128.6,70.3 123.6,72.2 118.4,72.9"/><path d="M168.4,63.4 170.9,63.1 172.6,61.2"/><path d="M201.2,7.1 197.6,11.4 193.3,15.1"/><path d="M233.6,103.1 233.2,99.1 232.1,95.2 232.6,91.2"/><path d="M83.3,33.6 80.0,35.8 76.7,38.3 72.8,39.4"/><path d="M111.6,65.8 112.1,61.0 114.0,56.4"/><path d="M113.2,13.8 108.4,13.5 105.2,9.9 100.4,9.8"/><path d="M196.3,70.7 192.0,72.2 187.5,72.6 183.6,70.4"/><path d="M124.9,78.8 126.7,83.2 130.3,86.4 134.4,88.9"/><path d="M154.8,33.7 152.2,37.0 149.3,40.1 146.1,42.8"/></g></g></g>
<path d="M66.0,158.5 L82.4,157.5 L94.2,149.2 L96.6,137.5 L106.0,137.5 L122.6,139.8 L139.0,138.5 L158.0,136.2 L164.5,128.0 L177.5,132.7 L183.4,143.3 L185.7,161.1 L198.7,169.3 L205.8,163.5 L212.9,152.8 L217.6,139.8 L217.6,128.0 L228.3,125.5 L236.6,132.7 L239.0,137.5 L246.0,131.5 L254.3,139.8 L266.0,148.1 L278.0,154.0 L285.0,155.5" fill="none" stroke="#2a2a2a" stroke-width="6" stroke-opacity="0.35" stroke-linejoin="round" filter="url(#bl1)"/>
<path d="M65.8,187.0 L66.0,161.0 L82.4,160.0 L94.2,151.7 L96.6,140.0 L106.0,140.0 L122.6,142.3 L139.0,141.0 L158.0,138.7 L164.5,130.5 L177.5,135.2 L183.4,145.8 L185.7,163.6 L198.7,171.8 L205.8,166.0 L212.9,155.3 L217.6,142.3 L217.6,130.5 L228.3,128.0 L236.6,135.2 L239.0,140.0 L246.0,134.0 L254.3,142.3 L266.0,150.6 L278.0,156.5 L285.0,158.0 L285.0,187.0 Z" fill="#7c7c7c"/>
<rect x="28" y="5" width="257" height="182" filter="url(#fS)" opacity="0.3"/>
<ellipse cx="246" cy="60.5" rx="5.5" ry="6.5" fill="url(#spotA)"/>
<g stroke="#8f8f8f" stroke-opacity="0.55" stroke-width="1.3" fill="none" filter="url(#fb)"><path d="M30,150 L44,170 L50,187"/><path d="M48,158 L53,187"/><path d="M58,162 L60,187"/><path d="M64,163 L66,187"/></g>
<rect x="28" y="5" width="257" height="1.6" fill="#3a3a3a" opacity="0.7"/>
</g>
<rect x="229.5" y="171.1" width="30.3" height="3" fill="#fff"/>
<g clip-path="url(#cB)">
<rect x="287" y="5" width="256" height="182" fill="#939393"/>
<linearGradient id="gBl" x1="0" x2="1" y1="0" y2="0"><stop offset="0" stop-color="#555" stop-opacity="0.55"/><stop offset="1" stop-color="#555" stop-opacity="0"/></linearGradient>
<rect x="287" y="5" width="30" height="182" fill="url(#gBl)"/>
<path d="M438.0,168.0 L442.0,125.0 L470.0,110.0 L520.0,112.0 L526.0,162.0 Z" fill="#a0a0a0" filter="url(#bl3)"/>
<rect x="287" y="5" width="256" height="182" filter="url(#fM)" opacity="0.55"/>
<g filter="url(#bl6)"><ellipse cx="365" cy="160" rx="58" ry="34" fill="#333" opacity="0.55"/></g>
<g filter="url(#bl3)"><ellipse cx="343" cy="158" rx="18" ry="16" fill="#151515" opacity="0.7"/><ellipse cx="382" cy="134" rx="13" ry="12" fill="#151515" opacity="0.65"/><ellipse cx="391" cy="172" rx="13" ry="11" fill="#151515" opacity="0.7"/><ellipse cx="365" cy="180" rx="15" ry="9" fill="#1a1a1a" opacity="0.5"/><ellipse cx="296" cy="125" rx="10" ry="28" fill="#333" opacity="0.35"/></g>
<linearGradient id="gBt" x1="0" x2="0" y1="0" y2="1"><stop offset="0" stop-color="#333" stop-opacity="0.3"/><stop offset="1" stop-color="#333" stop-opacity="0"/></linearGradient>
<rect x="287" y="5" width="256" height="30" fill="url(#gBt)"/>
<rect x="287" y="5" width="256" height="182" filter="url(#fML)" opacity="0.3"/>
<rect x="287" y="5" width="256" height="182" filter="url(#fD)" opacity="0.7"/>
<rect x="287" y="5" width="256" height="182" filter="url(#fL)" opacity="0.6"/>
<g filter="url(#fb2)"><g fill="none" stroke="#1a1a1a" stroke-width="2.2" stroke-opacity="0.22" stroke-linecap="round"><path d="M297.0,86.6 300.5,88.6 304.2,90.5 307.7,92.7 311.2,94.8 314.5,97.4 317.3,100.4 320.3,103.3 323.1,106.3 325.7,109.5 328.3,112.7 330.7,116.1 333.0,119.5"/><path d="M375.6,43.1 378.2,39.9 381.2,37.0 383.9,33.9 386.9,31.0 390.2,28.4 393.2,25.6 395.9,22.4 398.8,19.5 401.8,16.7 404.3,13.4 407.3,10.5 410.3,7.6 412.9,4.4 415.3,1.0"/><path d="M289.0,100.6 286.5,103.8 284.2,107.2 282.0,110.7 279.7,114.1 277.7,117.6 275.4,121.0 273.1,124.4 271.4,128.2 269.6,131.8 267.6,135.4 264.9,138.5 262.1,141.5 259.5,144.6 257.2,148.0"/><path d="M504.8,46.4 504.6,50.4 504.1,54.5 504.1,58.5 504.6,62.5 505.0,66.6 505.3,70.7 505.5,74.7 505.7,78.8 506.7,82.7 507.8,86.6 509.0,90.5 510.1,94.4"/><path d="M401.0,31.2 398.2,34.7 395.3,38.0 392.3,41.1 389.1,44.2 385.9,47.1 382.7,50.1 379.3,52.9 376.0,55.8 372.8,58.8"/><path d="M399.0,81.0 402.0,77.8 404.9,74.5 407.8,71.2 410.6,67.8 412.9,64.0 415.1,60.2 417.3,56.4 419.5,52.6 421.5,48.7"/><path d="M305.0,149.0 309.2,148.5 313.3,148.0 317.5,147.7 321.7,147.5 325.8,147.3 330.0,147.1 334.2,146.7 338.3,146.0 342.5,145.5 346.6,144.8 350.8,144.4 354.9,144.1"/><path d="M307.4,167.7 311.1,169.5 314.5,171.8 318.1,173.8 321.8,175.6 325.5,177.4 329.2,179.1 333.1,180.5 337.0,181.7 340.9,182.9 344.8,184.3"/><path d="M493.8,24.9 491.1,20.9 488.8,16.8 486.9,12.4 485.2,8.0 483.2,3.7"/><path d="M290.2,21.3 293.0,24.4 295.8,27.7 298.2,31.2 300.8,34.6 303.3,38.0 305.4,41.7"/><path d="M312.8,166.1 316.5,168.2 320.3,170.1 324.0,172.1 327.8,174.0 331.3,176.4 334.7,179.0 337.8,181.9 340.8,184.8 343.8,187.8"/><path d="M459.9,105.0 459.0,100.9 458.3,96.9 457.2,92.9 456.5,88.8 455.5,84.8 454.5,80.8 453.0,77.0 451.5,73.1"/><path d="M416.5,16.8 412.3,16.2 408.1,16.6 404.0,16.9 399.9,17.8 395.7,18.4 391.6,19.1 387.4,19.7 383.3,19.8 379.1,19.5 374.9,19.3 370.7,19.4 366.5,19.0"/><path d="M523.7,121.2 525.7,117.5 527.6,113.8 529.9,110.4 532.3,106.9 534.9,103.7 537.8,100.7 540.7,97.6 543.8,94.8 547.1,92.2 550.6,90.1"/><path d="M535.8,101.9 536.7,97.6 537.4,93.3 538.1,89.0 539.1,84.7 540.3,80.5 541.9,76.4 543.0,72.2 544.1,68.0 545.8,63.9 546.8,59.6"/><path d="M357.9,151.1 362.0,150.0 366.2,149.0 370.4,148.6 374.7,148.6 379.0,148.7 383.2,149.3 387.3,150.5 391.3,151.9"/><path d="M291.0,47.3 287.1,46.6 283.1,46.4 279.0,46.5 275.0,46.8 271.0,46.7 267.1,46.0 263.1,45.1 259.3,44.0 255.3,43.4"/><path d="M302.6,156.3 306.8,157.8 310.9,159.3 315.0,160.9 319.2,162.6 323.4,164.0 327.6,165.5 331.6,167.2 335.6,169.3 339.8,170.6"/><path d="M527.1,68.8 526.6,73.0 526.6,77.3 526.9,81.6 527.5,85.9 528.6,90.0 529.7,94.2 530.5,98.4 531.6,102.6 533.0,106.6 533.8,110.8 535.0,115.0"/><path d="M534.7,64.1 534.9,68.5 535.2,72.8 535.7,77.1 536.8,81.4 537.2,85.7 537.6,90.0 537.9,94.4 538.0,98.7 538.4,103.1 538.9,107.4"/><path d="M369.4,173.5 370.1,177.7 370.4,182.0 370.7,186.2 370.9,190.5 370.8,194.7 370.9,199.0 371.3,203.2 371.7,207.4 372.1,211.7"/><path d="M360.3,118.1 356.3,118.7 352.3,119.3 348.4,120.3 344.6,121.5 340.6,122.1 336.6,122.7 332.6,123.6 328.7,124.4"/><path d="M349.8,108.7 353.6,106.7 356.9,103.9 360.3,101.2 363.8,98.7 367.8,96.9 371.8,95.4 376.1,94.7 380.4,93.9 384.6,93.1"/><path d="M483.3,95.8 487.6,95.6 491.9,95.7 496.2,95.6 500.5,95.6 504.8,95.8 509.1,95.6 513.3,95.9 517.6,96.7 521.8,97.6"/><path d="M434.7,182.8 438.8,181.6 443.0,180.8 447.3,180.3 451.4,179.3 455.7,178.7 460.0,178.3 464.1,177.2"/><path d="M292.6,76.6 290.2,73.3 287.9,70.1 285.7,66.7 283.3,63.5 281.0,60.1 279.1,56.6 276.9,53.2 275.1,49.6 273.2,46.0"/><path d="M457.8,73.7 461.0,71.1 464.4,68.7 467.6,66.2 470.8,63.6 473.7,60.6 476.6,57.6"/><path d="M422.2,102.5 422.5,106.6 423.5,110.6 424.8,114.6 426.4,118.4 428.6,121.9 430.8,125.5 433.2,128.8 435.6,132.2 437.8,135.7 439.6,139.5 442.0,142.9 444.5,146.1 447.0,149.5 448.9,153.2"/><path d="M444.5,108.3 447.9,105.9 451.1,103.1 454.1,100.2 457.3,97.4 460.1,94.4 463.0,91.3 465.5,88.0 468.0,84.6 470.9,81.6 473.7,78.4 476.1,75.0"/><path d="M537.2,106.6 535.3,102.7 533.0,99.1 530.4,95.7 528.1,92.0 525.5,88.6 522.6,85.4 519.9,82.1 516.9,79.0"/><path d="M526.5,35.7 528.6,39.2 530.3,42.9 531.8,46.8 533.0,50.7 534.3,54.6 535.1,58.7 535.8,62.7 536.9,66.7 537.5,70.8 537.9,74.9 537.9,79.0 538.5,83.1 539.3,87.1 539.8,91.2"/><path d="M291.8,142.0 289.7,146.0 287.4,149.9 285.1,153.8 282.8,157.6 281.4,161.9 280.1,166.2 278.6,170.4"/><path d="M509.6,41.7 509.5,37.5 509.1,33.4 508.5,29.3 507.8,25.3 507.5,21.1 507.5,17.0 507.7,12.9 507.5,8.8 507.0,4.7 506.5,0.6 505.7,-3.5 504.5,-7.4 502.9,-11.3 501.1,-15.0"/><path d="M527.5,137.6 524.0,134.6 520.7,131.4 517.3,128.2 514.0,125.1 510.4,122.2 506.7,119.4"/><path d="M346.1,176.9 350.3,176.6 354.6,176.1 358.7,175.0 362.9,173.9 367.1,173.3 371.3,173.0 375.6,172.9 379.9,173.1 384.1,173.5"/><path d="M328.1,137.7 329.9,134.1 331.2,130.3 332.5,126.5 333.9,122.7 335.5,119.0 337.2,115.4 338.9,111.7 340.5,108.0 342.4,104.5 344.4,101.0 346.6,97.6"/><path d="M472.4,54.0 472.4,58.2 472.7,62.3 473.0,66.5 473.2,70.7 472.6,74.9 471.6,79.0 471.0,83.1 470.5,87.3 470.3,91.5 470.2,95.7 470.4,99.9"/><path d="M316.4,5.7 312.2,6.6 307.9,7.4 303.6,7.6 299.3,7.8 295.1,7.5"/><path d="M408.0,107.4 412.1,106.8 416.1,106.1 420.2,105.8 424.3,104.9 428.2,103.7 432.2,102.6 435.9,101.0 439.8,99.5 443.9,98.8 447.9,98.1 452.0,97.8 456.1,97.2 460.2,96.8 464.3,96.8"/><path d="M523.7,65.8 519.3,66.4 514.8,66.9 510.4,66.9 505.9,67.1 501.5,66.6 497.1,65.6 492.8,64.5 488.4,63.6"/><path d="M470.9,43.2 466.3,43.8 461.7,44.3 457.1,44.9 452.5,45.0 447.9,45.6 443.3,45.4"/><path d="M541.8,31.8 538.5,29.4 535.3,26.8 532.3,24.1 529.4,21.2 526.5,18.2 523.6,15.4 520.4,12.8 517.1,10.3 514.1,7.6 511.3,4.6 508.4,1.7"/><path d="M353.8,40.6 349.4,40.7 345.0,40.3 340.6,39.8 336.2,39.2 331.8,38.7 327.4,38.0 323.1,37.1 318.7,36.6 314.4,35.5"/><path d="M520.5,30.1 524.3,31.6 528.1,32.9 531.7,34.5 535.5,35.8 539.5,36.6 543.5,36.9 547.5,37.1 551.5,37.3 555.5,38.2 559.3,39.3 563.0,40.9 566.7,42.6 570.4,44.1"/><path d="M393.1,164.0 393.7,159.7 393.3,155.5 392.7,151.3 392.0,147.0 390.5,143.0 389.0,139.0 387.9,134.9 386.7,130.8 385.0,126.9 383.1,123.1 381.8,119.0"/><path d="M333.4,37.0 337.0,34.6 340.5,32.1 344.2,29.8 347.9,27.7 351.9,26.1 355.8,24.2 359.8,22.8 364.1,22.1 368.4,22.1 372.7,22.0"/><path d="M441.1,104.3 437.1,105.5 433.1,106.6 429.0,107.6 424.9,108.4 420.8,109.1 416.6,109.6"/><path d="M320.9,141.2 325.1,141.6 329.1,142.6 333.2,143.6 337.2,144.5 341.2,146.0 345.1,147.3"/><path d="M387.8,154.9 384.5,157.4 381.2,160.0 378.5,163.1 375.3,165.9 371.8,168.1"/><path d="M449.0,73.1 447.5,69.2 446.0,65.2 444.5,61.2 443.2,57.2 441.6,53.3 439.8,49.4 437.8,45.7 435.7,42.0 433.4,38.4 431.0,35.0"/><path d="M312.4,135.0 313.1,130.9 313.6,126.7 313.8,122.6 313.3,118.4 313.1,114.2 312.9,110.1 312.1,106.0 311.6,101.9 311.7,97.7 312.1,93.5 313.2,89.5"/><path d="M293.2,9.8 294.0,14.1 294.8,18.3 295.7,22.6 296.6,26.8 298.3,30.7 300.4,34.5 302.6,38.2 304.9,41.9 306.8,45.8"/><path d="M318.5,80.1 320.6,76.6 322.5,72.9 324.2,69.2 326.0,65.5 327.8,61.8 330.0,58.3"/><path d="M307.5,166.4 306.5,170.3 305.0,174.0 303.4,177.7 302.2,181.5 300.8,185.2 299.7,189.1 298.7,193.0"/><path d="M517.4,52.9 515.3,49.4 512.9,46.1 510.6,42.7 508.5,39.2 507.0,35.4 505.1,31.8 503.2,28.2 501.1,24.7"/><path d="M496.3,95.4 496.2,91.3 496.6,87.2 496.1,83.1 495.1,79.1 494.3,75.1 493.9,71.0 493.0,66.9 492.0,62.9 491.1,58.9 489.9,55.0"/><path d="M367.2,131.7 364.6,128.7 361.6,125.9 358.7,123.2 355.5,120.7 352.2,118.4 348.5,116.8 345.0,114.7 341.5,112.7 337.9,111.0 334.1,109.5 330.3,108.1"/><path d="M420.4,87.3 423.9,84.1 427.5,81.0 431.0,77.8 434.1,74.3 437.2,70.7"/><path d="M302.2,182.7 301.9,178.6 301.6,174.5 301.2,170.5 300.7,166.4 300.0,162.4 298.8,158.5 297.6,154.6 296.7,150.6 295.9,146.6"/><path d="M511.1,48.8 514.5,45.8 518.1,43.0 521.8,40.4 525.6,37.9 529.0,35.0 531.9,31.4"/></g><g fill="none" stroke="#141414" stroke-width="1.15" stroke-opacity="0.5" stroke-linecap="round"><path d="M427.0,186.1 430.6,188.6 434.8,189.7 438.9,191.0 443.0,192.6 446.9,194.5 450.4,197.0 453.4,200.2 456.0,203.6"/><path d="M542.4,30.7 542.9,34.8 543.7,38.8 544.9,42.6 546.5,46.4 547.9,50.2 549.5,53.9 551.0,57.7 553.2,61.2 555.8,64.3 558.4,67.4"/><path d="M404.0,105.8 401.8,102.1 399.4,98.4 397.2,94.7 395.6,90.7 393.4,87.0"/><path d="M387.1,27.1 391.6,26.7 396.0,26.6 400.5,26.9 405.0,27.0"/><path d="M432.3,179.9 429.2,177.4 425.9,175.0 422.2,173.5 418.7,171.3 415.0,169.7 411.1,168.6 407.3,167.2 403.8,165.2 400.2,163.3"/><path d="M474.2,27.0 477.5,24.7 480.2,21.7 483.2,19.1 485.9,16.2 488.5,13.1 491.1,10.1 494.1,7.3 496.9,4.5 499.3,1.3 501.9,-1.8"/><path d="M316.9,149.8 319.1,146.3 321.4,142.9 323.9,139.7 326.1,136.2 328.3,132.8 330.2,129.1 331.1,125.1 332.0,121.1 332.6,117.0"/><path d="M361.8,67.3 365.4,69.3 369.2,70.6 372.9,72.3 376.8,73.7 380.5,75.3 384.3,76.7 388.1,78.1 391.7,80.0 395.2,82.1"/><path d="M308.5,44.2 311.8,46.7 315.5,48.4 319.3,50.0 322.9,51.8 326.1,54.3 328.7,57.5 331.6,60.4 334.8,62.9 338.5,64.6 342.3,66.1"/><path d="M414.2,133.9 417.3,131.0 420.8,128.6 424.5,126.6 428.3,124.7 432.3,123.2 436.5,122.7 440.8,122.9 444.9,124.1 449.0,125.0 453.2,126.0 457.3,127.0"/><path d="M371.4,142.0 369.0,137.3 366.8,132.5 364.4,127.8"/><path d="M297.9,134.9 293.3,132.4 288.7,129.9 283.8,128.0"/><path d="M387.6,121.0 384.4,118.7 381.3,116.1 378.3,113.5 375.8,110.3 373.3,107.2 370.7,104.2 368.2,101.1 365.7,97.9 363.2,94.8 361.2,91.4 360.3,87.4 359.8,83.5"/><path d="M363.0,60.0 358.2,57.7 353.6,55.1 348.9,52.8"/><path d="M505.3,94.8 502.9,91.2 500.4,87.7 498.0,84.1 495.5,80.5 492.9,77.0 490.0,73.8 487.0,70.6"/><path d="M350.7,150.0 353.2,153.4 355.4,157.0 357.6,160.5 360.6,163.5 364.0,166.0 367.0,168.9 369.8,172.1 372.5,175.3 374.9,178.8 377.5,182.1 379.5,185.7"/><path d="M483.2,25.7 478.9,28.8 474.2,31.2 469.6,33.7"/><path d="M448.7,78.3 445.7,75.4 442.4,72.8 439.1,70.2 436.3,67.0 434.3,63.3 432.9,59.4 432.1,55.3 431.6,51.1"/><path d="M530.4,29.4 526.7,31.6 523.1,33.8 519.1,35.5 514.9,36.3 510.7,37.1 507.1,39.4 503.5,41.8 500.3,44.6 497.3,47.6 493.9,50.2"/><path d="M369.6,84.6 369.7,80.4 370.1,76.1 370.2,71.9 371.1,67.7 371.6,63.5 372.1,59.3 372.6,55.1 372.6,50.9 374.1,46.9 374.9,42.8"/><path d="M446.0,63.8 444.0,60.1 443.0,56.0 441.6,52.1 440.8,47.9 440.8,43.7 441.1,39.6 441.1,35.4 441.4,31.2 441.2,27.0 441.3,22.8"/><path d="M310.1,136.0 314.2,137.8 318.0,140.1 322.3,141.5 326.6,142.7 330.7,144.5 334.8,146.3 338.7,148.4"/><path d="M499.3,62.6 502.8,58.7 505.6,54.4 507.7,49.6"/><path d="M414.2,105.1 417.1,102.1 420.1,99.1 423.5,96.6 426.9,94.1"/><path d="M512.4,61.0 515.3,57.6 518.6,54.6 521.2,51.1 523.5,47.3 525.3,43.3"/><path d="M521.6,71.6 524.3,75.1 527.4,78.4 531.0,81.0 534.8,83.3 538.3,86.1 542.3,88.1"/><path d="M331.5,74.0 335.0,76.8 338.2,80.0 341.3,83.3 344.4,86.5 347.5,89.8 350.9,92.8 353.6,96.4"/><path d="M379.8,48.7 377.8,52.5 375.4,56.1 372.7,59.5 370.4,63.2 369.4,67.4"/><path d="M539.1,90.4 540.2,86.3 541.3,82.2 542.9,78.3 544.0,74.2 545.5,70.2 546.6,66.2 547.8,62.1 549.1,58.1 550.5,54.1"/><path d="M434.2,134.0 438.6,135.1 443.0,136.3 447.5,137.1 451.9,138.2 456.3,139.5 460.7,140.6"/><path d="M341.5,150.8 345.0,148.9 348.7,147.1 352.3,145.2 356.1,143.9 360.1,143.0 363.9,141.7 368.0,141.3 372.0,141.0 376.1,141.1 380.1,141.3 384.1,142.1 387.9,143.4"/><path d="M428.3,155.1 431.8,152.7 434.6,149.6 437.4,146.5 440.2,143.4 443.4,140.6 446.8,138.2 450.2,135.7"/><path d="M299.2,135.5 299.8,139.5 299.3,143.5 298.8,147.5 297.7,151.4 297.2,155.4 297.3,159.4 297.2,163.4 297.1,167.5 297.0,171.5 296.8,175.5 296.7,179.6 297.0,183.6"/><path d="M541.4,15.7 538.2,19.4 534.9,23.1 532.0,27.1 529.4,31.4"/><path d="M467.3,97.1 466.6,93.0 466.7,88.7 466.8,84.5 468.0,80.5 470.4,77.0"/><path d="M346.1,173.8 345.1,169.4 343.2,165.2 343.1,160.6 343.7,156.1"/><path d="M399.1,90.9 396.1,87.5 393.2,84.0 390.3,80.5 387.6,76.8 384.9,73.2"/><path d="M421.2,54.6 422.4,58.9 423.3,63.3 424.4,67.6 425.3,72.0 428.1,75.5"/><path d="M498.7,69.0 503.7,68.8 508.6,68.8 513.5,68.9 518.5,69.2"/><path d="M362.3,129.4 362.9,125.2 364.4,121.2 365.5,117.1 366.0,112.8 367.5,108.8 368.6,104.7 369.7,100.6 370.4,96.4 370.7,92.1 371.7,88.0 372.5,83.8"/><path d="M458.6,88.0 462.9,86.8 467.0,85.4 471.1,83.7 475.4,83.1 479.8,82.6 484.2,82.1 488.6,82.3 493.0,82.3"/><path d="M442.6,15.7 443.7,19.9 445.2,24.0 445.8,28.4 445.7,32.7 446.3,37.1 445.7,41.4 445.2,45.7 444.8,50.1 445.1,54.4 445.0,58.8"/><path d="M295.7,58.7 300.2,57.8 304.4,56.0 308.6,54.3 312.7,52.4 316.8,50.3 321.0,48.6 325.4,47.3"/><path d="M500.1,101.4 499.8,97.1 500.2,92.7 500.0,88.4 500.2,84.0 500.3,79.6 500.1,75.3 498.2,71.4 495.4,68.0"/><path d="M371.1,145.5 370.0,141.4 368.7,137.3 367.3,133.2 366.2,129.1 364.8,125.0 363.6,120.9 362.0,116.9 361.5,112.7 361.2,108.4"/><path d="M347.3,103.9 349.6,107.2 352.0,110.5 354.1,113.9 355.6,117.7 356.6,121.6 356.8,125.7 357.4,129.7 357.8,133.8 357.9,137.8 357.0,141.8 356.4,145.8 356.2,149.9"/><path d="M321.5,149.5 317.8,152.2 314.0,154.7 311.0,158.1 308.3,161.7"/><path d="M348.6,138.4 345.8,141.3 343.2,144.3 340.6,147.4 338.4,150.8 335.9,154.1 333.7,157.5 331.3,160.7 329.4,164.3 327.7,167.9"/><path d="M399.4,118.0 395.0,117.2 390.7,116.1 386.5,114.7 382.2,113.1 378.0,111.6"/><path d="M425.8,32.5 422.0,31.2 418.2,29.7 414.7,27.7 410.9,26.4 407.1,24.9 403.1,24.0 399.2,23.0 395.2,22.5 391.1,21.9 387.1,21.9 383.0,21.8"/><path d="M434.2,155.9 435.3,159.9 436.6,163.7 438.8,167.2 440.4,171.0 441.3,174.9 442.1,179.0 443.7,182.7 445.6,186.4 447.5,190.0 448.5,193.9 450.3,197.6 452.8,200.9"/><path d="M441.5,30.0 442.5,34.3 443.2,38.6 443.3,43.0 443.2,47.4 442.6,51.8 442.4,56.2 442.9,60.5"/><path d="M373.0,107.5 374.5,103.5 376.3,99.7 378.0,95.8 380.1,92.2 381.9,88.4 384.3,84.9"/><path d="M322.4,136.7 325.9,138.8 329.5,140.7 333.1,142.6 336.7,144.6 340.1,146.9 343.6,149.0 347.1,151.2 350.8,152.9"/><path d="M340.8,38.2 339.1,42.0 337.4,45.9 335.6,49.8 333.6,53.5 331.4,57.1 329.8,61.1 327.4,64.5"/><path d="M534.8,31.4 538.2,28.9 541.4,26.1 544.9,23.7 548.6,21.5 552.1,19.1 555.2,16.1 557.7,12.7 560.7,9.7 563.7,6.7 567.1,4.1 570.5,1.5"/><path d="M439.7,46.9 436.4,49.2 432.7,50.8 429.4,53.1 425.9,55.1 422.3,56.9 419.0,59.2"/><path d="M485.5,36.3 488.0,40.2 490.5,44.1 493.4,47.8 495.9,51.7 498.5,55.5"/><path d="M332.2,142.2 330.2,138.5 328.0,134.8 325.5,131.3 322.7,128.2 320.0,124.9 316.8,122.0 313.4,119.5 310.1,116.8"/><path d="M530.2,128.1 526.0,128.4 521.8,128.5 517.5,128.7 513.3,129.2 509.1,129.8 505.1,131.0 501.2,132.7 497.7,135.1"/><path d="M452.0,45.5 447.9,46.6 443.8,47.7 439.7,48.6 435.7,49.8 431.5,50.3 427.3,50.7 423.1,50.8 418.9,50.7"/><path d="M401.4,94.2 399.6,97.9 397.9,101.7 395.7,105.2 393.4,108.7 391.2,112.2"/><path d="M381.8,138.6 377.8,139.8 374.1,141.8 370.5,143.9 366.6,145.6 362.9,147.5 359.2,149.4 355.5,151.4 351.8,153.4 348.0,155.0"/><path d="M515.5,84.8 519.7,83.0 523.4,80.5 526.5,77.2 529.4,73.7 531.2,69.6 532.9,65.4 534.3,61.1"/><path d="M350.7,118.3 348.1,121.4 345.9,124.7 344.2,128.4 342.4,131.9 340.7,135.6 338.9,139.2 337.1,142.8"/><path d="M494.6,8.1 494.8,4.1 494.2,0.1 493.2,-3.9 492.8,-7.9 492.4,-11.9 491.8,-15.9 491.6,-20.0 490.6,-23.9 490.2,-28.0 489.1,-31.8"/><path d="M301.7,55.7 297.6,56.8 293.5,58.0 289.3,58.7 285.2,59.9 280.9,60.3"/><path d="M515.4,70.1 513.8,74.1 511.7,77.8 509.3,81.3 506.7,84.7 503.6,87.6 500.7,90.7 497.6,93.7 494.8,96.9 492.1,100.2 488.9,102.9"/><path d="M536.4,138.3 532.7,136.0 529.8,132.8 526.9,129.6 523.5,127.0"/><path d="M357.1,145.1 356.3,141.2 355.4,137.3 354.3,133.5 352.7,129.8 351.3,126.0"/><path d="M481.5,105.8 482.1,109.9 482.1,114.1 481.9,118.3 481.9,122.5 481.8,126.7 481.7,130.9 481.6,135.1 481.2,139.3"/><path d="M438.1,77.1 436.9,81.1 435.5,84.9 434.8,89.0 433.6,92.9 432.4,96.9 430.9,100.7 429.2,104.5 428.2,108.5 428.3,112.6"/><path d="M437.0,80.2 435.7,84.3 434.4,88.4 432.8,92.4 430.9,96.3 428.9,100.2 426.7,103.9 424.7,107.8 423.0,111.7 421.4,115.8 420.8,120.1 420.4,124.4"/><path d="M430.3,184.3 434.6,183.4 438.8,182.7 442.9,181.1 446.7,179.0 450.5,176.8 454.3,174.7 458.5,173.4 462.8,173.2 467.2,173.4 471.5,173.6 475.8,174.5"/><path d="M306.4,162.1 308.3,158.3 310.4,154.7 312.1,150.9 313.6,146.9 314.9,142.9 316.4,139.0 318.0,135.1"/><path d="M457.8,63.8 453.7,63.2 449.6,62.7 445.4,62.1 441.3,61.8 437.2,62.3 433.1,63.1 429.0,64.0 425.1,65.5 421.3,67.1 417.4,68.5 413.7,70.5"/><path d="M327.4,74.7 326.3,78.9 325.1,83.1 322.8,86.8 320.1,90.2 316.7,92.8 313.1,95.2"/><path d="M531.9,9.3 536.1,9.3 540.2,9.9 544.4,9.9 548.6,9.5 552.7,10.1 556.8,10.9 561.0,11.3 565.1,10.9 569.1,9.8 573.2,9.0"/><path d="M330.5,91.7 326.4,92.9 322.4,94.5 318.5,96.4 314.4,97.7"/><path d="M518.2,25.7 514.4,27.5 510.8,29.9 507.0,31.9 502.9,32.9 498.6,33.5 494.4,34.2 490.3,35.5 486.1,36.1 482.0,37.3"/><path d="M406.0,158.7 402.8,154.6 399.7,150.5 396.2,146.7"/><path d="M288.1,143.9 292.0,142.4 295.9,141.2 299.9,139.9 303.9,138.9 307.7,137.4 311.3,135.2 314.7,132.8 317.6,129.9 320.6,127.2"/><path d="M453.5,42.4 451.9,38.4 449.6,34.7 447.1,31.1 444.1,28.0"/><path d="M397.3,87.9 401.1,89.4 404.9,90.9 408.8,92.2 412.7,93.5 416.6,94.9 420.5,96.1 424.2,97.7 427.8,99.6 431.1,102.1 434.2,104.8 437.1,107.7 439.8,110.8"/><path d="M478.4,17.2 480.6,13.8 482.4,10.2 484.7,6.9 487.5,4.1 490.5,1.4 493.4,-1.3"/><path d="M413.5,168.7 418.2,168.0 422.8,166.9 427.5,166.1 432.3,166.0 437.0,166.4"/><path d="M541.8,71.9 545.9,72.9 550.2,73.6 554.4,74.2 558.7,74.4 562.9,75.5 567.1,76.4 571.2,77.4 575.5,77.5 579.7,76.5 584.0,76.0"/><path d="M296.7,117.6 298.9,121.7 300.8,126.0 302.9,130.2 305.7,133.9"/><path d="M441.8,14.8 443.3,18.7 445.0,22.4 446.8,26.1 449.1,29.5 451.4,32.9 454.6,35.5"/><path d="M319.8,82.5 324.3,82.6 328.7,83.4 333.0,84.5 337.4,85.3 341.8,85.9"/><path d="M382.0,113.3 385.9,111.3 389.9,109.5 393.9,107.7 397.6,105.4"/><path d="M386.7,183.4 384.6,187.2 381.7,190.5 378.8,193.9 376.3,197.5 373.9,201.1 372.1,205.1 370.3,209.2"/><path d="M482.0,19.1 483.0,14.9 484.1,10.8 484.3,6.5 484.9,2.3 484.7,-2.0 484.9,-6.2 485.1,-10.5 484.7,-14.8 484.2,-19.0"/><path d="M294.6,110.4 290.3,109.8 286.0,109.3 281.8,108.4 277.6,107.7 273.4,106.6 269.2,105.6 265.0,105.3 260.7,105.5 256.3,105.5 252.0,105.4 247.7,105.5"/><path d="M404.6,94.8 404.7,90.8 405.1,86.8 405.4,82.8 405.4,78.8 405.8,74.8 406.0,70.9 406.0,66.8"/><path d="M361.8,165.3 365.3,167.3 368.8,169.5 372.8,170.3 376.7,171.2 380.7,172.1 384.7,172.7 388.7,173.4 392.8,173.0 396.8,172.2 400.8,171.4 404.8,170.8"/><path d="M439.5,128.6 435.6,128.9 431.7,130.1 427.9,131.3 424.0,132.4 420.2,133.4 416.4,134.8 412.5,135.8 408.7,137.1 404.9,138.3 401.3,140.1 397.7,141.9"/><path d="M293.9,108.4 296.7,111.4 299.1,114.7 301.4,118.2 303.5,121.7 306.0,124.9 308.4,128.3 310.5,131.8 313.2,134.9 315.9,138.0"/><path d="M365.2,45.5 370.0,44.4 374.5,42.2 379.2,40.8 384.1,40.7"/><path d="M374.2,66.0 376.3,62.6 378.5,59.2 380.2,55.6 381.4,51.7 382.5,47.8 384.1,44.1 385.2,40.2 386.2,36.3 387.1,32.4 388.1,28.5 388.8,24.5"/><path d="M539.5,158.8 537.7,163.6 535.7,168.4 532.7,172.6"/><path d="M390.6,89.4 389.7,85.0 388.7,80.7 387.0,76.6 385.7,72.3 385.1,67.9 385.0,63.5 384.7,59.1"/><path d="M410.3,113.3 409.3,117.4 407.9,121.3 406.4,125.2 404.5,129.0 403.4,133.0"/><path d="M411.7,92.5 407.5,90.3 403.7,87.5 400.5,84.0 397.2,80.6 393.7,77.4"/><path d="M352.5,173.2 348.9,175.4 345.4,177.9 341.9,180.4 338.3,182.6 334.6,184.7 331.0,187.1 327.5,189.4 323.8,191.5"/><path d="M458.7,9.0 454.3,10.2 450.2,12.2 445.7,12.4 441.1,12.6 436.6,13.2 432.0,13.1 427.5,12.3"/><path d="M514.0,72.3 509.7,73.8 505.4,75.5 501.5,77.8 497.8,80.4 494.4,83.5 491.0,86.4 487.2,88.9"/><path d="M350.1,65.4 353.0,61.9 356.1,58.6 359.7,55.9 363.4,53.3 366.4,49.9"/><path d="M367.7,41.6 367.5,37.5 366.8,33.6 365.7,29.7 363.9,26.0 362.3,22.4 361.0,18.5 359.6,14.7 358.8,10.8 358.1,6.8 357.4,2.8 356.6,-1.1"/><path d="M346.2,9.8 345.7,13.8 344.6,17.7 343.0,21.4 341.8,25.3"/><path d="M436.8,102.3 434.8,105.8 432.4,109.1 430.7,112.8 428.2,116.0 426.5,119.7 424.3,123.1 421.6,126.1 418.6,128.9 415.4,131.3 412.3,134.0 409.2,136.6"/><path d="M349.5,15.5 353.9,15.9 358.4,15.9 362.9,16.2 367.3,17.1"/><path d="M412.7,137.3 408.8,135.7 405.1,133.7 401.3,131.8 397.8,129.5 394.3,127.2"/><path d="M515.5,19.4 518.7,22.0 521.9,24.6 525.1,27.1 528.3,29.7 531.5,32.2 535.1,34.2 538.8,36.0 542.1,38.3 545.1,41.1 548.1,43.9 551.1,46.7 554.1,49.4"/><path d="M521.9,64.3 518.0,65.8 514.1,67.0 510.3,68.5 506.7,70.4 503.1,72.5 499.8,74.9"/><path d="M328.8,171.2 330.1,167.1 330.7,162.9 330.7,158.5 331.5,154.3 332.6,150.1 334.0,146.1"/><path d="M389.5,56.6 393.1,58.5 396.7,60.3 400.4,61.8 404.1,63.4 407.6,65.3 411.3,66.8 415.3,67.7 419.2,68.5 423.1,69.4 426.9,70.6 430.9,71.0"/><path d="M326.9,73.1 323.0,74.5 319.1,75.9 315.3,77.5 311.6,79.4 307.7,81.0 304.2,83.1 300.5,85.0 297.3,87.6"/><path d="M314.1,61.6 311.0,58.9 308.5,55.7 306.7,52.0 305.0,48.3 303.4,44.6 301.3,41.1 299.8,37.3"/><path d="M434.1,183.4 439.0,183.1 443.5,181.1 447.9,179.0 452.6,177.5"/><path d="M371.4,80.6 367.5,81.7 363.6,82.7 359.7,84.0 355.8,85.1 352.0,86.6 348.5,88.5 345.0,90.6 341.4,92.5 337.6,93.8 333.6,94.6"/><path d="M333.9,174.8 334.0,170.5 334.8,166.2 334.7,161.9 334.7,157.6 334.2,153.3 333.8,148.9 333.3,144.7 332.6,140.4 331.6,136.2 330.8,131.9 330.3,127.6"/><path d="M465.7,67.2 465.7,62.9 464.8,58.7 464.6,54.4 463.9,50.2 463.5,46.0 463.0,41.7 462.8,37.4 463.2,33.2 463.2,28.9"/><path d="M332.4,21.6 335.3,24.4 337.9,27.5 340.8,30.3 342.8,33.8"/><path d="M315.7,38.3 317.8,34.4 319.0,30.2 320.3,26.0 321.8,21.8 322.4,17.4"/><path d="M294.9,141.1 297.5,137.9 300.2,134.8 302.6,131.5 305.3,128.4 307.9,125.3 310.3,121.9 312.5,118.5 315.2,115.4 318.1,112.5 320.4,109.1"/><path d="M314.0,146.0 310.9,143.1 307.4,140.7 303.6,139.1 299.7,137.3 296.5,134.6 293.1,132.2 290.2,129.1 287.1,126.3 283.7,123.7 279.9,121.8"/><path d="M322.2,58.9 323.8,62.6 326.3,65.7 328.6,69.1 330.6,72.5 332.3,76.2 334.3,79.7 336.4,83.1 338.0,86.8 339.5,90.5"/><path d="M336.0,10.6 340.0,9.6 343.8,7.9 347.4,6.0 351.1,4.1 354.9,2.5 358.8,1.2 362.6,-0.4 366.4,-2.0 370.1,-3.8 373.3,-6.4 376.8,-8.6"/><path d="M472.4,76.2 475.6,79.5 479.4,82.1 483.1,84.9 486.9,87.6"/><path d="M417.6,61.1 417.1,56.9 416.2,52.9 415.9,48.7 416.7,44.7 416.5,40.5 415.7,36.4 415.2,32.3 415.0,28.2"/><path d="M528.1,24.4 531.4,20.7 534.8,17.0 538.5,13.6"/><path d="M360.6,48.0 357.4,45.4 354.3,42.7 351.2,40.1 348.6,36.9 345.7,34.1 342.5,31.5 339.1,29.3 335.4,27.7"/><path d="M335.2,162.1 331.3,164.2 327.2,166.2 323.4,168.5 319.1,169.9 315.0,171.7 310.7,173.1"/><path d="M433.2,78.4 432.3,74.3 431.1,70.1 429.7,66.1 428.7,62.0 427.6,57.8 426.5,53.7"/><path d="M344.4,83.6 343.7,79.6 343.7,75.5 343.9,71.5 344.0,67.4 344.1,63.4 343.6,59.4 342.9,55.4 341.9,51.5 341.4,47.5 340.5,43.5"/><path d="M360.6,65.8 365.7,66.4 370.8,66.4 375.9,66.7"/><path d="M384.6,75.7 388.6,73.5 392.7,71.3 396.6,69.0 400.5,66.6 403.9,63.6 407.4,60.5"/><path d="M333.9,114.2 330.0,112.7 326.4,110.6 323.2,108.0 320.0,105.3 317.3,102.2 314.9,98.8"/><path d="M312.6,65.9 308.5,66.7 304.4,67.6 300.4,69.2 296.4,70.2 292.1,70.5 287.9,70.4 283.7,70.2 279.5,70.2 275.3,70.8 271.1,71.4 266.9,71.9"/><path d="M406.2,137.2 406.5,132.5 407.3,127.8 407.8,123.2 407.3,118.5 407.3,113.8"/><path d="M445.1,29.8 445.0,34.2 444.3,38.6 444.1,43.0 444.3,47.5 444.4,51.9"/><path d="M451.7,11.2 449.8,7.6 448.1,3.8 446.3,0.1 444.5,-3.6 443.7,-7.7 443.4,-11.8 442.6,-15.8 441.1,-19.7"/><path d="M454.9,21.8 457.1,18.3 459.2,14.8 461.6,11.5 463.8,8.0 465.5,4.3 466.8,0.4 468.2,-3.5 470.2,-7.0 472.2,-10.6"/><path d="M290.2,163.8 288.7,167.7 287.7,171.7 286.7,175.8 285.4,179.8 284.1,183.7 283.3,187.8 282.9,192.0 282.2,196.1 280.8,200.0 279.5,204.0 278.9,208.1"/><path d="M433.1,9.0 435.5,12.5 438.0,16.1 440.5,19.5 443.4,22.7 446.0,26.1 449.1,29.1 452.6,31.6 456.2,33.8 459.8,36.3 463.7,38.0"/><path d="M361.3,116.6 357.4,118.4 353.7,120.5 350.1,122.8 346.2,124.6 342.3,126.3"/><path d="M402.2,53.6 397.6,53.3 393.1,53.0 388.5,52.7 384.0,51.7 379.6,50.4"/><path d="M308.0,158.1 306.4,162.0 305.1,166.2 304.7,170.5 304.5,174.8 303.6,179.0 302.7,183.2 302.3,187.4 302.2,191.8"/><path d="M403.3,77.5 400.6,74.2 397.8,71.1 395.7,67.4 394.7,63.3 394.2,59.2 394.1,55.0 394.4,50.8 395.4,46.7 395.6,42.5 396.4,38.3"/><path d="M403.7,53.7 400.7,56.9 398.3,60.5 395.8,64.1 393.5,67.8"/><path d="M474.9,17.6 477.7,20.5 480.3,23.7 482.3,27.4 483.4,31.3 485.4,34.9 487.6,38.4 489.9,41.8"/><path d="M350.5,12.1 346.9,14.5 343.3,16.9 339.5,18.9 335.8,21.1 332.1,23.2 328.5,25.5 325.0,28.1 321.8,30.9 319.5,34.5 317.4,38.3"/><path d="M309.4,132.3 313.5,133.0 317.6,133.4 321.6,132.8 325.6,131.6 329.6,130.6 333.6,129.8 337.6,128.8 341.7,128.5 345.8,127.9"/><path d="M432.6,140.2 432.9,144.2 433.0,148.3 433.6,152.2 433.9,156.3 435.3,160.0 437.1,163.7 438.4,167.5 440.0,171.2 441.9,174.8 444.4,177.9 447.0,181.0"/><path d="M450.2,89.9 446.2,88.7 442.4,87.3 438.7,85.4 434.8,84.2 430.9,82.8"/><path d="M409.5,44.5 409.8,49.6 409.9,54.7 410.4,59.8"/><path d="M363.4,124.2 362.0,119.1 360.9,114.0 360.0,108.9"/><path d="M436.0,123.6 438.9,126.9 441.7,130.3 444.1,133.9 446.1,137.8 447.4,142.0 449.2,146.0 450.5,150.2"/><path d="M348.7,170.9 344.3,170.9 340.0,170.5 335.7,170.0 331.7,168.4 327.8,166.4 324.0,164.3"/><path d="M324.6,171.7 328.6,171.0 332.6,170.1 336.5,168.9 340.5,167.7 344.2,166.0 347.6,163.8 351.0,161.5 354.2,158.9 356.7,155.7 359.4,152.6 362.5,149.9"/><path d="M436.3,34.0 432.1,33.8 427.8,34.3 423.6,34.1 419.4,33.0"/><path d="M408.4,147.1 411.3,144.0 414.2,140.9 417.5,138.1 420.2,134.8 422.6,131.2 424.6,127.4 426.9,123.8 428.9,120.0 431.0,116.3"/><path d="M290.3,74.6 286.7,71.8 283.4,68.6 280.1,65.5 277.0,62.2"/><path d="M305.0,44.0 304.8,40.0 304.7,35.9 304.6,31.9 305.5,27.9 306.1,23.9 307.2,20.0 308.7,16.3 310.5,12.6"/><path d="M329.5,21.8 333.6,22.8 337.5,24.6 341.6,25.7 345.8,26.5 350.0,27.2 354.1,28.2 358.3,29.3 362.5,29.9 366.7,29.9 371.0,29.6 375.2,28.7"/><path d="M527.5,116.1 524.4,112.9 521.2,109.8 518.1,106.6 515.0,103.4 512.0,100.1"/><path d="M420.7,172.0 424.1,169.6 427.6,167.3 431.2,165.2 434.5,162.5 438.4,160.9 442.0,158.9 446.2,158.3 450.3,158.6"/><path d="M352.3,127.5 356.4,125.9 360.8,125.4 365.1,124.8 369.4,123.8 373.7,122.8 378.0,121.9 382.1,120.3 386.2,118.8"/><path d="M386.9,165.9 383.5,163.6 380.0,161.4 376.9,158.6 374.4,155.3 371.9,152.0 370.2,148.3 367.9,144.8 366.1,141.1 363.7,137.7 361.5,134.2 359.6,130.5 357.6,126.9"/></g><g fill="none" stroke="#202020" stroke-width="0.8" stroke-opacity="0.35" stroke-linecap="round"><path d="M404.9,53.1 405.7,57.2 406.6,61.4"/><path d="M450.6,56.3 449.8,51.9 449.5,47.5 450.0,43.0 450.8,38.7 452.0,34.4"/><path d="M489.6,66.7 494.1,63.7 499.3,62.1"/><path d="M310.0,9.7 312.7,6.6 315.3,3.5 318.8,1.4 321.9,-1.3 325.6,-3.0"/><path d="M390.5,153.8 393.1,157.4 397.1,159.2 401.1,161.1 405.5,161.6"/><path d="M512.5,78.0 514.6,81.7 515.8,85.6"/><path d="M478.1,65.2 481.6,63.2 485.4,61.6 487.9,58.4"/><path d="M519.3,7.9 517.5,4.1 517.7,-0.1"/><path d="M496.1,39.2 491.7,41.9 487.9,45.5"/><path d="M329.5,73.1 325.0,71.8 321.4,68.7 317.8,65.7"/><path d="M304.0,81.2 300.5,79.1 297.2,76.7 294.9,73.3 292.0,70.4 288.7,68.0"/><path d="M317.3,151.4 316.6,147.2 316.4,143.0 316.1,138.7 316.6,134.5 316.7,130.2"/><path d="M350.3,163.5 353.5,160.9 357.3,159.4 361.1,158.0 364.5,155.8 367.8,153.5 371.0,150.9"/><path d="M349.5,164.8 345.4,165.5 341.6,167.2 337.5,168.0"/><path d="M442.2,56.4 439.5,60.3 437.5,64.6 435.6,68.9 434.3,73.5"/><path d="M449.0,120.1 452.8,117.0 456.5,113.8 459.3,109.8"/><path d="M517.4,25.5 518.7,21.6 520.7,18.0 522.7,14.5 524.6,10.9 526.3,7.1"/><path d="M359.6,184.8 360.0,190.5 359.4,196.1"/><path d="M323.1,120.5 318.8,121.4 314.7,123.1 310.7,125.1 307.0,127.4 303.7,130.3"/><path d="M437.2,126.7 434.8,122.4 433.0,118.0 432.5,113.1"/><path d="M502.5,110.7 501.3,106.3 500.5,101.8 501.9,97.4 503.6,93.2 506.0,89.3"/><path d="M519.5,104.2 519.5,100.0 520.8,95.9 520.8,91.7"/><path d="M389.7,5.6 392.1,9.2 394.8,12.5 398.3,15.1 401.8,17.6"/><path d="M474.4,31.4 479.2,31.3 483.4,33.7 487.2,36.7 490.4,40.3"/><path d="M314.0,141.7 317.7,138.1 320.7,133.9"/><path d="M348.5,44.8 350.3,40.2 350.7,35.4 349.4,30.7"/><path d="M498.5,63.8 499.5,67.8 500.2,71.8 499.3,75.8 499.1,79.9 500.2,83.8 502.0,87.5"/><path d="M457.2,115.4 462.9,114.9 468.6,114.9"/><path d="M344.3,82.5 344.0,78.0 341.8,74.0 340.1,69.8 338.0,65.8"/><path d="M345.4,72.8 342.0,76.3 339.0,80.3 337.6,85.1 334.5,89.0"/><path d="M320.1,150.1 324.8,150.0 329.2,148.3 333.5,146.3"/><path d="M471.6,29.6 473.0,33.7 473.3,38.1 474.3,42.4"/><path d="M384.7,101.1 381.8,97.8 379.3,94.1 376.5,90.6 373.7,87.1"/><path d="M362.6,135.0 361.2,138.8 358.4,141.8 356.5,145.3"/><path d="M288.5,52.4 290.7,48.7 293.7,45.7 297.3,43.3"/><path d="M453.2,107.0 456.3,109.7 460.2,111.1 464.2,112.2 468.0,113.7 472.1,113.9"/><path d="M430.5,125.6 430.3,131.2 430.1,136.7"/><path d="M309.1,49.5 313.0,53.6 317.4,57.4"/><path d="M341.2,9.9 345.2,9.3 349.1,10.2 353.1,10.2 357.2,9.9 361.2,9.8"/><path d="M464.6,37.8 466.1,33.2 468.2,29.0 470.4,24.6 471.2,19.9"/><path d="M375.1,101.5 378.3,104.5 381.1,107.9 382.8,112.0 383.6,116.3 385.0,120.5"/><path d="M493.6,56.9 493.3,52.2 493.8,47.5 493.7,42.8 493.8,38.1"/><path d="M327.6,159.7 326.9,163.9 326.8,168.1 326.1,172.2"/><path d="M388.5,163.4 392.4,162.1 396.3,160.7 400.2,159.5 404.3,158.7"/><path d="M533.7,112.9 531.8,117.1 530.6,121.5 529.5,125.9"/><path d="M438.0,135.7 440.8,132.1 443.5,128.4 444.7,124.0"/><path d="M345.9,181.1 341.5,185.1 337.9,189.7"/><path d="M369.4,87.3 365.1,89.0 360.8,90.7 356.8,92.9 353.0,95.5"/><path d="M455.1,13.5 450.9,12.1 446.5,11.8 442.2,11.4 437.8,11.2"/><path d="M412.6,29.9 409.8,26.2 406.5,22.9 403.6,19.4 399.4,17.4 394.8,17.7"/><path d="M417.9,24.3 413.6,25.6 409.1,25.1 404.9,23.4 400.5,22.2 396.0,22.0"/><path d="M412.1,29.0 416.5,29.5 421.0,30.0 425.5,30.2"/><path d="M509.3,8.2 512.7,5.1 516.1,2.0 520.6,0.9 524.2,-2.0"/><path d="M481.3,51.8 478.0,49.3 475.6,46.1 473.4,42.6 471.1,39.2 469.1,35.6 466.2,32.7"/><path d="M323.4,79.5 321.6,83.9 320.3,88.4 319.8,93.1"/><path d="M339.6,127.9 343.1,125.2 346.7,122.8 350.1,120.1"/><path d="M374.2,179.7 379.1,177.9 383.2,174.6 386.4,170.4"/><path d="M388.1,27.5 386.3,22.9 386.4,17.9 388.3,13.3 389.8,8.6"/><path d="M510.3,101.8 506.1,99.9 501.8,98.3 497.3,97.4 493.1,95.5 489.5,92.6"/><path d="M360.3,63.1 357.7,66.4 354.2,68.8 351.4,72.0 349.8,75.9 347.5,79.4"/><path d="M397.1,42.7 395.0,37.2 393.3,31.5"/><path d="M542.4,86.7 544.7,82.7 546.1,78.3 547.6,74.0"/><path d="M306.3,85.8 302.3,85.9 298.6,87.5 295.9,90.5 293.9,94.0 292.2,97.6"/><path d="M442.5,37.0 444.7,32.3 447.4,27.9"/><path d="M513.2,93.9 516.8,96.6 519.9,100.0 522.0,104.0 524.5,107.8"/><path d="M373.9,98.3 377.1,94.4 380.9,91.1"/><path d="M358.4,120.6 363.5,121.9 368.4,123.7"/><path d="M481.1,46.1 479.4,42.1 478.5,37.8 477.5,33.5 476.0,29.4"/><path d="M300.7,98.8 304.9,94.6 308.5,89.9"/><path d="M381.7,180.6 384.7,184.4 387.4,188.4"/><path d="M510.4,79.4 507.7,82.8 504.3,85.6 500.9,88.4 497.7,91.3"/><path d="M443.0,92.9 447.2,93.3 451.3,94.2 455.4,94.8 459.6,94.4"/><path d="M513.5,106.1 514.5,110.5 515.7,114.8 516.7,119.2"/><path d="M341.9,155.0 344.6,158.5 347.6,161.7 350.8,164.7"/><path d="M427.0,126.8 429.7,122.0 432.7,117.4"/><path d="M321.9,55.1 326.4,54.6 330.8,53.5 335.1,52.2 339.4,50.5"/><path d="M433.4,171.4 436.3,168.2 439.6,165.6 443.2,163.2"/><path d="M367.2,21.2 366.0,25.2 365.0,29.4"/><path d="M308.6,67.0 309.7,62.7 309.8,58.3 310.8,54.0 312.6,49.9"/><path d="M339.2,22.5 343.5,24.8 347.8,26.8 351.9,29.2"/><path d="M463.8,14.1 467.7,15.5 470.8,18.3 474.6,19.7 478.7,20.2 482.3,22.2 485.7,24.5"/><path d="M402.3,144.4 404.9,140.3 406.6,135.7 407.9,130.9 409.2,126.3"/><path d="M504.5,109.4 506.2,105.2 507.3,100.9 507.0,96.5 507.7,92.1"/><path d="M363.8,88.6 368.2,89.4 372.7,89.2 377.1,89.5"/><path d="M480.4,106.0 477.2,109.3 472.7,110.3"/><path d="M526.1,59.1 526.9,54.1 526.8,48.9"/><path d="M531.8,79.5 530.5,84.3 531.9,89.0 533.5,93.7"/><path d="M448.0,41.0 442.8,39.5 438.5,36.3"/><path d="M308.5,165.5 310.0,161.0 311.3,156.4 310.2,151.8 309.5,147.1"/><path d="M434.9,84.7 440.6,85.4 446.2,84.5"/><path d="M377.7,21.2 374.1,24.4 370.6,27.7"/><path d="M425.0,105.9 420.3,105.3 416.4,102.5 412.3,100.1 409.0,96.8 407.0,92.4"/><path d="M313.8,107.2 316.9,104.4 319.7,101.3 320.6,97.3 321.0,93.1 320.5,89.0 321.2,84.9"/><path d="M476.5,105.9 472.7,108.2 468.5,109.8 464.2,111.3 459.8,112.1"/><path d="M319.2,181.7 315.1,180.2 311.3,178.1 307.0,177.2 303.5,174.8"/><path d="M516.6,66.7 512.7,68.0 509.0,69.9"/><path d="M426.6,169.1 426.4,173.4 425.3,177.5 423.8,181.4 422.7,185.5"/><path d="M343.5,165.1 342.9,169.3 344.5,173.2 345.2,177.4"/><path d="M510.0,16.4 514.6,15.4 519.3,14.7 524.0,13.8"/><path d="M297.6,85.6 293.7,82.4 288.8,81.0 283.7,80.7"/><path d="M428.9,142.0 430.7,137.9 432.2,133.7 433.9,129.6"/><path d="M329.7,29.8 332.0,33.2 333.6,36.9 334.9,40.8"/><path d="M430.6,88.8 427.0,86.8 423.6,84.6 421.1,81.4 418.3,78.5 414.5,77.3 410.4,76.8"/><path d="M515.5,49.5 511.0,50.1 506.3,50.0"/><path d="M454.3,50.5 451.8,53.7 449.4,57.0 446.9,60.2"/><path d="M378.9,114.8 381.9,110.6 385.0,106.4"/><path d="M390.1,155.5 392.2,151.8 394.8,148.5 397.3,145.1 398.9,141.2"/><path d="M497.1,103.2 501.7,105.8 506.8,107.2 510.6,111.0"/><path d="M382.4,15.6 378.6,13.7 374.9,11.4 370.8,10.6 367.0,8.5"/><path d="M431.8,138.1 431.8,142.5 431.2,146.9 429.8,151.1 428.8,155.3 427.2,159.5"/><path d="M508.4,85.2 504.7,82.9 501.3,80.3 497.0,80.2 493.0,81.9"/><path d="M377.0,116.9 376.8,120.9 375.3,124.7 372.8,127.9"/><path d="M538.0,30.5 537.3,25.8 536.4,21.1 536.9,16.3 538.5,11.8"/><path d="M300.5,119.3 296.2,122.4 293.7,127.1"/><path d="M348.6,26.4 350.7,31.0 351.4,36.0 350.5,41.0"/><path d="M295.1,169.5 299.7,170.9 303.7,173.4 308.1,175.1 312.5,177.0 317.1,178.0"/><path d="M484.3,16.2 488.8,16.4 493.3,16.3 497.8,16.0 502.2,14.9"/><path d="M523.8,79.7 527.7,76.4 530.0,71.8 530.7,66.7"/><path d="M289.0,30.9 288.9,35.1 290.0,39.1 290.5,43.2 290.4,47.3 289.3,51.3"/><path d="M342.9,32.2 347.2,31.1 351.4,29.9 355.6,28.6 359.4,26.5 363.5,24.8"/><path d="M315.4,148.4 319.9,147.2 324.6,146.7 329.1,145.5 333.8,145.0 338.3,146.2"/><path d="M421.9,45.9 422.5,50.2 422.2,54.6 420.4,58.6"/><path d="M301.0,61.1 304.9,59.2 308.0,56.2"/><path d="M422.7,161.3 422.7,165.7 421.8,170.1 422.0,174.5"/><path d="M399.8,45.5 394.9,46.6 390.3,44.9 385.7,43.2 380.9,41.8"/><path d="M505.3,104.3 508.7,106.7 512.6,108.4 516.3,110.3 520.0,112.3 523.6,114.4"/><path d="M296.5,154.1 301.9,152.1 307.6,151.0"/><path d="M383.0,100.4 383.6,105.0 383.7,109.6 384.0,114.3 384.0,118.9"/><path d="M429.3,137.2 429.2,142.9 429.9,148.6"/><path d="M466.9,11.7 464.3,15.3 463.8,19.7"/><path d="M287.1,32.5 290.1,29.7 292.2,26.1 293.5,22.3 294.8,18.4 294.1,14.3 294.9,10.3"/><path d="M400.5,31.4 402.8,34.9 405.1,38.3 407.3,41.8 409.9,45.0 413.4,47.2 417.5,47.8"/><path d="M344.0,147.9 339.9,151.5 337.4,156.4"/><path d="M521.7,47.6 525.2,44.6 527.8,40.9 528.5,36.4 527.7,31.9 525.1,28.2"/><path d="M394.5,79.9 393.3,75.7 390.9,72.1 388.8,68.2 388.8,63.9 388.0,59.6"/><path d="M510.8,33.2 515.0,32.0 519.1,33.2 523.1,34.7 526.2,37.7"/><path d="M429.1,91.6 433.1,92.5 436.8,94.3 440.8,95.4 444.9,96.0"/><path d="M529.4,143.5 531.3,148.6 532.9,153.7"/><path d="M518.3,63.9 515.2,67.2 511.7,69.9 508.7,73.3 505.6,76.5"/><path d="M364.0,7.7 365.8,11.3 366.9,15.2"/><path d="M425.0,25.3 428.8,27.6 432.8,29.4 436.0,32.4 439.5,35.2 442.8,38.1"/><path d="M405.9,33.1 407.0,37.8 408.9,42.2 411.0,46.6 411.3,51.4"/><path d="M367.0,159.9 367.7,164.2 368.1,168.5"/><path d="M289.8,10.0 292.3,5.9 295.4,2.2 299.7,0.3 304.1,-1.5 308.5,-3.4"/><path d="M345.1,144.6 344.0,139.9 342.8,135.3 341.6,130.6 340.1,126.1"/><path d="M293.7,102.3 295.0,98.0 297.2,94.1 300.8,91.3"/><path d="M368.8,131.5 371.1,135.0 373.7,138.3"/><path d="M386.0,106.5 385.3,102.1 384.0,97.7 381.1,94.3 378.2,90.8"/><path d="M409.9,122.6 412.9,119.8 414.8,116.1"/><path d="M392.3,137.1 392.3,132.6 393.3,128.1 394.2,123.7 395.3,119.3 396.2,114.9"/><path d="M473.3,69.4 478.3,71.6 483.2,73.8"/><path d="M383.8,160.0 383.0,156.0 383.5,152.0 385.1,148.3 387.7,145.2 388.3,141.3"/><path d="M319.8,122.7 319.2,117.8 320.0,113.0 321.7,108.4 323.6,103.8"/><path d="M460.2,10.4 465.0,12.2 469.3,15.1 474.2,16.5"/><path d="M299.7,15.2 302.2,12.0 304.5,8.7 306.4,5.2 309.6,2.6"/><path d="M386.3,25.6 387.0,21.4 388.0,17.1 388.6,12.9 388.3,8.5"/><path d="M330.6,70.8 329.6,75.7 329.5,80.8 329.0,85.8"/><path d="M411.8,83.9 412.5,88.0 414.4,91.8 415.2,95.9"/><path d="M394.6,61.0 398.5,59.8 402.5,58.8"/><path d="M318.8,93.3 320.0,97.3 322.0,101.0 322.8,105.1 323.0,109.3"/><path d="M429.4,78.4 435.2,79.1 440.9,80.3"/><path d="M514.5,100.6 517.4,103.7 518.3,107.9 518.7,112.1 517.6,116.3"/><path d="M363.8,63.7 363.9,59.2 365.2,55.0 367.1,51.0 368.5,46.8 369.3,42.4"/><path d="M336.9,66.0 339.8,62.8 343.7,60.7 347.1,58.0"/><path d="M497.7,96.2 495.7,99.9 493.5,103.5 491.5,107.2 488.9,110.5 486.2,113.7"/><path d="M357.9,52.6 353.9,51.2 349.7,50.3 345.9,48.4"/><path d="M430.2,7.3 425.0,6.4 419.9,5.0"/><path d="M390.9,73.9 393.8,77.7 394.0,82.5"/><path d="M523.9,29.6 523.8,25.5 523.4,21.4 523.3,17.3 523.0,13.3 523.2,9.2 522.2,5.2"/><path d="M323.9,145.6 321.2,149.6 319.0,153.9 317.5,158.5 316.5,163.2"/><path d="M381.6,177.2 386.4,179.3 390.7,182.4"/><path d="M409.7,17.8 412.8,20.6 415.8,23.5 418.4,26.7 421.2,29.9"/><path d="M412.5,44.1 416.6,45.3 420.6,46.5 423.7,49.4 426.4,52.7 429.5,55.5"/><path d="M370.3,92.7 365.8,94.0 361.3,95.4 357.3,97.7 353.4,100.5 349.4,103.0"/><path d="M365.5,69.1 364.7,74.2 364.5,79.3"/><path d="M339.2,24.2 335.3,25.2 331.8,27.2 329.1,30.2 326.7,33.4 323.4,35.7"/><path d="M393.0,111.8 388.5,109.6 384.5,106.7 381.7,102.5"/><path d="M288.9,60.4 288.3,65.7 286.5,70.7"/><path d="M314.6,60.2 310.2,58.3 306.2,55.8"/><path d="M450.7,43.9 454.7,45.8 459.0,47.0 463.3,47.5 467.7,47.6 472.1,46.8"/><path d="M455.9,7.4 459.2,3.9 463.6,1.8"/><path d="M343.0,83.9 339.4,86.1 335.9,88.7"/><path d="M528.3,60.8 532.8,61.2 537.0,62.9 541.3,64.3 545.5,66.0 549.5,68.2"/><path d="M336.1,132.3 338.9,135.3 340.3,139.1 340.2,143.2 338.5,146.9"/><path d="M530.5,52.3 525.6,54.9 520.4,56.8"/><path d="M488.1,97.3 491.3,99.9 492.8,103.8 493.1,108.0 493.4,112.1 494.5,116.1 494.4,120.3"/><path d="M355.7,86.1 352.5,83.3 349.1,80.9 346.6,77.6 343.9,74.3"/><path d="M308.8,61.8 304.7,61.5 300.6,61.3 296.5,61.0"/><path d="M428.4,28.2 428.5,22.7 428.4,17.2"/><path d="M535.8,153.4 536.6,157.6 537.4,161.7 538.9,165.7"/><path d="M488.6,74.3 487.0,68.7 483.1,64.4"/><path d="M324.1,69.2 321.3,73.0 318.5,76.8 316.8,81.3 313.8,85.0"/><path d="M371.4,27.8 369.4,31.5 366.7,34.7 363.1,36.9"/><path d="M298.5,135.9 295.8,140.1 293.6,144.7"/><path d="M330.8,59.3 331.0,54.0 331.0,48.7"/><path d="M324.3,163.4 320.1,164.3 315.9,165.0 311.6,164.7 307.7,166.3 303.9,168.2"/><path d="M310.5,124.0 313.5,120.5 316.1,116.7 319.2,113.4"/><path d="M292.2,143.9 289.3,141.0 287.6,137.3 287.1,133.3"/><path d="M478.5,50.3 474.5,46.4 471.2,41.8"/><path d="M482.0,59.2 478.5,55.6 476.0,51.3 474.0,46.7 472.3,42.0"/><path d="M516.5,40.0 521.2,36.8 526.4,34.3"/><path d="M384.7,161.9 386.2,166.6 386.8,171.5 386.6,176.4 388.6,180.9"/><path d="M422.8,99.0 419.0,100.5 415.3,102.2 411.5,103.7 408.7,106.5 406.7,110.1 404.7,113.6"/><path d="M367.3,75.1 368.9,78.8 371.0,82.2 373.9,85.0"/><path d="M424.8,167.9 428.1,164.7 432.7,164.7 437.1,163.5 441.2,161.5 444.7,158.6"/><path d="M481.7,91.0 477.7,94.0 473.2,96.1 468.6,97.9 464.1,100.1"/><path d="M367.1,159.0 363.5,156.9 360.6,153.8"/><path d="M532.1,34.4 536.0,33.1 539.1,30.3 543.0,28.9 547.1,28.4"/><path d="M319.8,62.6 320.8,66.6 321.6,70.6 323.0,74.5 323.2,78.6 322.6,82.7"/><path d="M433.5,75.7 432.5,71.7 431.2,67.8 429.7,63.9 428.6,60.0 428.8,55.9"/><path d="M497.9,37.2 498.9,33.2 500.3,29.3 502.3,25.7"/><path d="M332.4,90.2 336.6,91.6 341.1,91.9 345.5,92.9 349.9,93.0 354.4,93.0"/><path d="M362.1,67.5 365.4,71.2 367.3,75.8 368.2,80.7"/><path d="M369.2,137.9 369.2,142.0 369.7,146.0 370.5,150.0 369.6,154.0 370.5,158.0 370.8,162.1"/><path d="M424.2,19.4 427.5,22.8 431.2,25.8 435.7,27.2 440.1,29.1"/><path d="M441.6,28.6 440.0,23.3 439.1,17.8"/><path d="M357.8,73.3 360.3,76.8 363.1,80.1 366.1,83.2 368.1,87.0"/><path d="M471.8,10.3 470.1,14.5 468.6,18.8 467.0,23.0"/><path d="M534.1,56.6 537.6,58.6 541.2,60.5 544.3,63.1 546.6,66.5 549.0,69.7"/><path d="M392.6,49.7 388.4,51.9 383.6,52.2 378.9,52.3 374.4,53.9"/></g><g fill="none" stroke="#202020" stroke-width="1.0" stroke-opacity="0.4" stroke-linecap="round"><path d="M506.9,139.7 510.3,136.8 513.7,133.9 517.3,131.2 520.5,128.2 524.0,125.3 527.2,122.2"/><path d="M455.3,119.3 450.8,119.7 446.3,120.1 441.8,120.7 437.3,121.1 432.9,122.1"/><path d="M471.7,130.1 472.5,134.2 472.7,138.3 472.3,142.5 472.1,146.7 471.6,150.8 470.5,154.9"/><path d="M480.7,153.8 477.9,150.2 475.3,146.4 473.0,142.6 470.5,138.7 468.0,135.0 465.6,131.1 463.1,127.4"/><path d="M514.3,130.6 511.9,133.9 509.1,136.9 506.3,140.0 503.6,143.1 500.8,146.0"/><path d="M484.9,156.7 488.4,158.8 491.7,161.1 495.1,163.3 498.1,166.0"/><path d="M494.2,153.7 497.5,151.1 500.8,148.4 503.8,145.5 506.3,142.0 509.1,138.8 511.9,135.6 514.5,132.2 516.9,128.8 519.4,125.3"/><path d="M520.4,159.0 519.2,155.1 517.7,151.3 516.1,147.6 514.0,144.1 511.8,140.6 509.8,137.1"/><path d="M462.1,131.7 459.0,128.6 455.7,125.6 452.0,123.1 447.9,121.4 444.1,119.0 440.1,117.1 436.1,115.3 432.1,113.3"/><path d="M518.5,156.3 520.6,151.9 523.9,148.3 527.2,144.6 530.3,140.9"/><path d="M492.5,162.5 489.1,160.2 485.7,158.1 482.1,156.4 478.3,155.0 474.6,153.4 471.0,151.6 467.3,150.0 463.6,148.4"/><path d="M484.4,141.1 482.0,144.4 478.9,147.2 476.1,150.2 473.4,153.3 470.7,156.5 467.7,159.2"/></g></g>
<path d="M435.0,187.0 L436.0,170.0 L444.0,161.0 L470.0,158.5 L500.0,158.0 L530.0,160.0 L543.0,162.0 L543.0,187.0 Z" fill="#8c8c8c" filter="url(#fb)"/>
<rect x="287" y="5" width="256" height="182" filter="url(#fS)" opacity="0.3"/>
<rect x="287" y="5" width="256" height="1.6" fill="#3a3a3a" opacity="0.7"/>
</g>
<rect x="500.3" y="171.6" width="27.7" height="3" fill="#fff"/>
<line x1="42.9" y1="195.7" x2="276.15" y2="195.7" stroke="#6a6a6a" stroke-width="1.5"/>
<line x1="275.5" y1="194.95" x2="275.5" y2="353.95" stroke="#000" stroke-width="1.3"/>
<line x1="46.5" y1="194.95" x2="46.5" y2="353.95" stroke="#000" stroke-width="1.3"/>
<line x1="42.9" y1="353.2" x2="276.15" y2="353.2" stroke="#6a6a6a" stroke-width="1.5"/>
<line x1="43.1" y1="219.93" x2="46.5" y2="219.93" stroke="#000" stroke-width="1.1"/>
<line x1="43.1" y1="244.16" x2="46.5" y2="244.16" stroke="#000" stroke-width="1.1"/>
<line x1="43.1" y1="268.39" x2="46.5" y2="268.39" stroke="#000" stroke-width="1.1"/>
<line x1="43.1" y1="292.62" x2="46.5" y2="292.62" stroke="#000" stroke-width="1.1"/>
<line x1="43.1" y1="316.85" x2="46.5" y2="316.85" stroke="#000" stroke-width="1.1"/>
<line x1="43.1" y1="341.08" x2="46.5" y2="341.08" stroke="#000" stroke-width="1.1"/>
<line x1="44.3" y1="207.82" x2="46.5" y2="207.82" stroke="#000" stroke-width="1.0"/>
<line x1="44.3" y1="232.05" x2="46.5" y2="232.05" stroke="#000" stroke-width="1.0"/>
<line x1="44.3" y1="256.28" x2="46.5" y2="256.28" stroke="#000" stroke-width="1.0"/>
<line x1="44.3" y1="280.51" x2="46.5" y2="280.51" stroke="#000" stroke-width="1.0"/>
<line x1="44.3" y1="304.74" x2="46.5" y2="304.74" stroke="#000" stroke-width="1.0"/>
<line x1="44.3" y1="328.97" x2="46.5" y2="328.97" stroke="#000" stroke-width="1.0"/>
<line x1="46.5" y1="353.2" x2="46.5" y2="356.4" stroke="#000" stroke-width="1.1"/>
<line x1="79.07" y1="353.2" x2="79.07" y2="356.4" stroke="#000" stroke-width="1.1"/>
<line x1="111.64" y1="353.2" x2="111.64" y2="356.4" stroke="#000" stroke-width="1.1"/>
<line x1="144.21" y1="353.2" x2="144.21" y2="356.4" stroke="#000" stroke-width="1.1"/>
<line x1="176.78" y1="353.2" x2="176.78" y2="356.4" stroke="#000" stroke-width="1.1"/>
<line x1="209.35" y1="353.2" x2="209.35" y2="356.4" stroke="#000" stroke-width="1.1"/>
<line x1="241.92" y1="353.2" x2="241.92" y2="356.4" stroke="#000" stroke-width="1.1"/>
<line x1="274.49" y1="353.2" x2="274.49" y2="356.4" stroke="#000" stroke-width="1.1"/>
<line x1="62.78" y1="353.2" x2="62.78" y2="355.4" stroke="#000" stroke-width="1.0"/>
<line x1="95.36" y1="353.2" x2="95.36" y2="355.4" stroke="#000" stroke-width="1.0"/>
<line x1="127.92" y1="353.2" x2="127.92" y2="355.4" stroke="#000" stroke-width="1.0"/>
<line x1="160.5" y1="353.2" x2="160.5" y2="355.4" stroke="#000" stroke-width="1.0"/>
<line x1="193.06" y1="353.2" x2="193.06" y2="355.4" stroke="#000" stroke-width="1.0"/>
<line x1="225.64" y1="353.2" x2="225.64" y2="355.4" stroke="#000" stroke-width="1.0"/>
<line x1="258.21" y1="353.2" x2="258.21" y2="355.4" stroke="#000" stroke-width="1.0"/>
<path d="M46.5,307.55 L46.89,306.7 L47.28,307.84 L47.67,308.89 L48.06,308.76 L48.45,309.92 L48.85,310.44 L49.24,309.65 L49.63,312.25 L50.02,312.46 L50.41,312.07 L50.8,312.92 L51.19,313.85 L51.58,313.71 L51.97,314.15 L52.36,313.67 L52.75,315.6 L53.14,315.67 L53.54,316.1 L53.93,315.07 L54.32,317.78 L54.71,316.97 L55.1,316.89 L55.49,319.02 L55.88,317.78 L56.27,317.05 L56.66,318.15 L57.05,317.06 L57.44,319.88 L57.83,319.1 L58.23,319.1 L58.62,320.68 L59.01,318.87 L59.4,320.73 L59.79,319.01 L60.18,320.28 L60.57,320.1 L60.96,322.32 L61.35,322.78 L61.74,321.43 L62.13,322.53 L62.52,321.99 L62.92,322.78 L63.31,322.01 L63.7,321.52 L64.09,321.67 L64.48,323.54 L64.87,325.16 L65.26,323.9 L65.65,323.53 L66.04,325.58 L66.43,324.36 L66.82,324.28 L67.21,324.42 L67.61,324.16 L68,324.06 L68.39,323.25 L68.78,324.73 L69.17,324.31 L69.56,325.3 L69.95,324.16 L70.34,323.45 L70.73,325.26 L71.12,327.05 L71.51,325.94 L71.9,326.01 L72.3,326.23 L72.69,326.66 L73.08,327.28 L73.47,326.69 L73.86,328.76 L74.25,327.49 L74.64,327.84 L75.03,328.9 L75.42,329.02 L75.81,327.79 L76.2,328.26 L76.59,328.63 L76.99,327.99 L77.38,326.87 L77.77,328.76 L78.16,329 L78.55,328.7 L78.94,327.76 L79.33,328.35 L79.72,328.1 L80.11,328.35 L80.5,329.59 L80.89,329.81 L81.28,329.2 L81.68,329.15 L82.07,329.29 L82.46,328.81 L82.85,328.8 L83.24,328.39 L83.63,328.89 L84.02,330.66 L84.41,329.65 L84.8,328.78 L85.19,328.71 L85.58,328.45 L85.97,329.41 L86.37,329.45 L86.76,328.11 L87.15,329.58 L87.54,328.81 L87.93,330.25 L88.32,329.24 L88.71,330.35 L89.1,328.65 L89.49,328.71 L89.88,329.08 L90.27,329.57 L90.66,329.12 L91.06,327.68 L91.45,328.65 L91.84,328.42 L92.23,328.09 L92.62,327.85 L93.01,328.77 L93.4,327.63 L93.79,327.22 L94.18,327.65 L94.57,327.15 L94.96,326.73 L95.35,326.73 L95.75,326.11 L96.14,325.5 L96.53,325.11 L96.92,323.9 L96.98,323.31 L97.11,323.02 L97.24,322.5 L97.31,322.57 L97.37,321.73 L97.5,320.8 L97.63,321 L97.7,319.99 L97.77,319.31 L97.9,319.48 L98.03,317.97 L98.09,317.95 L98.16,316.88 L98.29,315.24 L98.42,313.59 L98.48,313.02 L98.55,312.16 L98.68,309.72 L98.81,307.39 L98.87,305.38 L98.94,304.52 L99.07,300.22 L99.2,296.94 L99.26,295.15 L99.33,293.02 L99.46,288.42 L99.59,281.93 L99.65,280.53 L99.72,278.43 L99.85,274.44 L99.98,271.2 L100.05,271.33 L100.11,272.03 L100.24,272.13 L100.37,276.36 L100.44,278.79 L100.5,280.34 L100.63,285.98 L100.76,290.35 L100.83,292.93 L100.89,295.29 L101.02,300.12 L101.15,303.85 L101.22,306.07 L101.28,306.83 L101.41,310.09 L101.54,313.07 L101.61,314.01 L101.67,314.19 L101.8,316.93 L101.93,318.01 L102,319.12 L102.06,319.75 L102.19,321.38 L102.32,321.95 L102.39,321.54 L102.46,322.22 L102.59,324 L102.72,324.3 L102.78,325.27 L102.85,325.2 L102.98,325.35 L103.11,326.72 L103.17,326.12 L103.24,325.77 L103.37,328.02 L103.56,326.75 L103.95,328.74 L104.34,329.53 L104.74,329.7 L105.13,329.31 L105.52,330.89 L105.91,330.09 L106.3,330.4 L106.69,331.08 L107.08,331.81 L107.47,331.78 L107.86,332.19 L108.25,331.78 L108.64,332.06 L109.03,331.76 L109.43,332.27 L109.82,332.8 L110.21,332.52 L110.6,332.99 L110.99,332.59 L111.38,332.65 L111.77,332.99 L112.16,332.94 L112.55,333.35 L112.94,333.22 L113.33,333.97 L113.72,333.14 L114.12,333.19 L114.51,332.87 L114.9,333.39 L115.29,333.73 L115.68,333.14 L116.07,333.49 L116.46,333.88 L116.85,333.54 L117.24,333.41 L117.63,334.12 L118.02,333.76 L118.41,333.94 L118.81,334.32 L119.2,334.35 L119.59,333.72 L119.98,333.67 L120.37,334.08 L120.76,333.92 L121.15,333.17 L121.54,334.63 L121.93,334.1 L122.32,334.46 L122.71,333.64 L123.1,334.78 L123.5,333.97 L123.89,334.22 L124.28,333.68 L124.67,334.27 L125.06,334.27 L125.45,334.33 L125.84,334.64 L126.23,334.51 L126.62,334.95 L127.01,334.33 L127.4,334.13 L127.79,334.6 L128.19,334.93 L128.58,335.24 L128.97,335.08 L129.36,333.95 L129.75,334.95 L130.14,335.47 L130.53,334.87 L130.92,334.65 L131.31,335.05 L131.7,334.72 L132.09,335.26 L132.48,335 L132.88,335.66 L133.27,335.28 L133.66,334.76 L134.05,335.38 L134.44,335.55 L134.83,334.9 L135.22,334.99 L135.61,334.16 L136,335.63 L136.39,334.98 L136.78,334.32 L137.17,334.5 L137.57,335.22 L137.96,335.68 L138.35,335.32 L138.74,335.6 L139.13,334.91 L139.52,334.83 L139.91,335.85 L140.3,335.69 L140.69,335.48 L141.08,336.09 L141.47,335.1 L141.86,335.36 L142.26,336.03 L142.65,336.41 L143.04,335.61 L143.43,336.37 L143.82,335.36 L144.21,335.79 L144.6,335.58 L144.99,334.95 L145.38,335.79 L145.77,336.1 L146.16,335.61 L146.56,335.64 L146.95,336.3 L147.34,335.09 L147.73,334.96 L148.12,335.31 L148.51,335.02 L148.9,336.1 L149.29,335.55 L149.68,334.91 L150.07,334.81 L150.46,336.1 L150.85,334.17 L151.25,333.62 L151.64,333.47 L152.03,332.84 L152.42,331.8 L152.81,330.65 L153.2,330.42 L153.59,331.6 L153.98,331.87 L154.37,331.59 L154.76,333.01 L155.15,332.65 L155.54,331.75 L155.94,331.48 L156.33,332.03 L156.72,332.14 L157.11,332.1 L157.24,332.86 L157.37,332.04 L157.5,332.78 L157.5,331.96 L157.63,332.43 L157.76,332.23 L157.89,332.84 L157.89,331.56 L158.02,331.06 L158.15,330.97 L158.28,330.19 L158.28,330.43 L158.41,330.13 L158.54,329.31 L158.67,328.41 L158.67,327.33 L158.8,327.12 L158.93,324.55 L159.06,320.66 L159.06,319.72 L159.19,317.27 L159.32,313.91 L159.45,310.57 L159.45,311.64 L159.58,311.52 L159.71,313.54 L159.84,317.62 L159.84,317.79 L159.97,320.58 L160.1,323.83 L160.23,325.72 L160.23,325.66 L160.36,327.8 L160.49,329.32 L160.63,329.84 L160.63,329.1 L160.76,331.14 L160.89,330.77 L161.02,332.02 L161.02,332.76 L161.15,332.34 L161.28,332.12 L161.41,332.26 L161.41,333.44 L161.54,333.12 L161.67,333.54 L161.8,333.86 L162.19,333.74 L162.58,333.82 L162.97,333.66 L163.36,332.79 L163.75,333.54 L164.14,334.23 L164.53,334.23 L164.92,334.58 L165.32,334.43 L165.71,334.64 L166.1,335 L166.49,334.32 L166.88,334.66 L167.27,334.13 L167.66,335.36 L168.05,335 L168.44,335.27 L168.83,335.8 L169.22,335.65 L169.61,335.2 L170.01,335.64 L170.4,334.69 L170.79,335.59 L171.18,335.51 L171.57,334.77 L171.96,336.16 L172.35,335.29 L172.74,335.97 L173.13,335.53 L173.52,336.22 L173.91,336.41 L174.3,335.5 L174.7,335.24 L175.09,335.92 L175.48,336.41 L175.87,335.91 L176.26,335.86 L176.65,336.4 L177.04,334.99 L177.43,335.98 L177.82,335.71 L178.21,336.51 L178.6,336.06 L178.99,335.86 L179.39,336.17 L179.78,335.64 L180.17,336.26 L180.56,335.92 L180.95,336.03 L181.34,335.84 L181.73,336.54 L182.12,336.05 L182.51,336.3 L182.9,336.24 L183.29,335.62 L183.68,336.2 L184.08,336.07 L184.47,336.01 L184.86,335.64 L185.25,335.59 L185.64,336.08 L186.03,336.66 L186.42,335.25 L186.81,335.8 L187.2,335.33 L187.59,335.77 L187.98,335.53 L188.37,335.71 L188.77,333.86 L189.16,334.7 L189.55,334.36 L189.94,334.55 L190.33,334.02 L190.72,333.77 L191.11,334.05 L191.5,334.32 L191.89,332.07 L192.28,333.24 L192.67,333.71 L193.06,333.87 L193.46,334.03 L193.85,333.87 L194.24,334.31 L194.63,335.28 L195.02,335.61 L195.41,335.32 L195.8,335.02 L196.19,335.55 L196.58,335.49 L196.97,335.92 L197.36,335.79 L197.76,335.51 L198.15,335.93 L198.54,335.36 L198.93,336.3 L199.32,336.5 L199.71,335.48 L200.1,336.23 L200.49,335.63 L200.88,336.59 L201.27,336.55 L201.66,336.07 L202.05,336.65 L202.45,336.04 L202.84,335.97 L203.23,336.03 L203.62,336.25 L204.01,336.2 L204.4,336.44 L204.79,336.12 L205.18,336.76 L205.57,336.9 L205.96,336.25 L206.35,335.85 L206.74,336.85 L207.14,337.06 L207.53,336.5 L207.92,336.02 L208.31,336.74 L208.7,337.33 L209.09,335.83 L209.48,336.91 L209.87,336.58 L210.26,336.36 L210.65,336.99 L211.04,336.21 L211.43,336.95 L211.83,337.43 L212.22,336.94 L212.61,336.49 L213,336.11 L213.39,336.36 L213.78,336.13 L214.17,337.7 L214.56,336.89 L214.95,336.56 L215.34,336.47 L215.73,336.59 L216.12,336.95 L216.52,336.55 L216.91,337.9 L217.3,336.83 L217.69,336.84 L218.08,337.35 L218.47,337.89 L218.86,337.86 L219.25,337.06 L219.64,337.42 L220.03,337.39 L220.42,337.58 L220.81,337.47 L221.21,336.95 L221.6,336.83 L221.99,337.5 L222.38,336.9 L222.77,338.07 L223.16,337.49 L223.55,337.03 L223.94,337.36 L224.33,337.3 L224.72,337.49 L225.11,337.99 L225.5,336.93 L225.9,336.76 L226.29,337.77 L226.68,337.56 L227.07,337.73 L227.46,337.88 L227.85,337.61 L228.24,338.07 L228.63,337.33 L229.02,337.78 L229.41,337.4 L229.8,337.28 L230.19,338.08 L230.59,338.08 L230.98,336.97 L231.37,337.36 L231.76,338.01 L232.15,338.38 L232.54,337.62 L232.93,337.85 L233.32,337.32 L233.71,339.1 L234.1,338.21 L234.49,338.41 L234.88,338.33 L235.28,338.47 L235.67,338.34 L236.06,337.93 L236.45,338.44 L236.84,338.16 L237.23,338.72 L237.62,337.83 L238.01,337.93 L238.4,338.49 L238.79,338.79 L239.18,338.3 L239.57,337.93 L239.97,338.22 L240.36,338.06 L240.75,339.16 L241.14,338.73 L241.53,338.91 L241.92,338.5 L242.31,338.13 L242.7,338.93 L243.09,339.16 L243.48,338.7 L243.87,338.44 L244.27,338.96 L244.66,338.31 L245.05,338.8 L245.44,338.12 L245.83,337.99 L246.22,338.66 L246.61,338.54 L247,339.23 L247.39,338.23 L247.78,338.34 L248.17,337.8 L248.56,337.46 L248.96,337.48 L249.35,338.47 L249.74,337.71 L250.13,338.73 L250.52,338.85 L250.91,338.06 L251.3,338.92 L251.69,338.25 L252.08,338.64 L252.47,338.01 L252.86,338.53 L253.25,337.65 L253.65,338.34 L254.04,337.83 L254.43,337.96 L254.82,338.29 L255.21,338.06 L255.6,337.93 L255.99,338.27 L256.38,338.29 L256.77,337.28 L257.16,338.14 L257.55,338.17 L257.94,337.51 L258.34,338 L258.73,337.21 L259.12,338.43 L259.51,337.65 L259.9,337.7 L260.29,338.25 L260.68,337.63 L261.07,337.94 L261.46,337.17 L261.85,337.36 L262.24,336.96 L262.63,337.46 L263.03,337.99 L263.42,337.59 L263.81,337.85 L264.2,336.94 L264.59,336.95 L264.98,337.08 L265.37,337.47 L265.76,337.27 L266.15,336.98 L266.54,337.1 L266.93,336.55 L267.32,336.31 L267.72,336.5 L268.11,335.2 L268.5,335.25 L268.89,335.96 L269.28,335.68 L269.67,336.42 L270.06,336.21 L270.45,337.65 L270.84,335.96 L271.23,336.6 L271.62,336.79 L272.01,338.11 L272.41,337.64 L272.8,337.46 L273.19,337.08 L273.58,337.89 L273.97,337.85 L274.36,337.55" fill="none" stroke="#000" stroke-width="1.45" stroke-linejoin="round" />
<line x1="307.1" y1="196" x2="543.25" y2="196" stroke="#000" stroke-width="1.3"/>
<line x1="542.6" y1="195.35" x2="542.6" y2="354.05" stroke="#000" stroke-width="1.3"/>
<line x1="311.4" y1="195.35" x2="311.4" y2="354.05" stroke="#000" stroke-width="1.3"/>
<line x1="307.1" y1="353.4" x2="543.25" y2="353.4" stroke="#000" stroke-width="1.3"/>
<line x1="307.4" y1="222.23" x2="311.4" y2="222.23" stroke="#000" stroke-width="1.1"/>
<line x1="307.4" y1="248.47" x2="311.4" y2="248.47" stroke="#000" stroke-width="1.1"/>
<line x1="307.4" y1="274.7" x2="311.4" y2="274.7" stroke="#000" stroke-width="1.1"/>
<line x1="307.4" y1="300.93" x2="311.4" y2="300.93" stroke="#000" stroke-width="1.1"/>
<line x1="307.4" y1="327.17" x2="311.4" y2="327.17" stroke="#000" stroke-width="1.1"/>
<line x1="309.2" y1="209.12" x2="311.4" y2="209.12" stroke="#000" stroke-width="1.0"/>
<line x1="309.2" y1="235.35" x2="311.4" y2="235.35" stroke="#000" stroke-width="1.0"/>
<line x1="309.2" y1="261.58" x2="311.4" y2="261.58" stroke="#000" stroke-width="1.0"/>
<line x1="309.2" y1="287.82" x2="311.4" y2="287.82" stroke="#000" stroke-width="1.0"/>
<line x1="309.2" y1="314.05" x2="311.4" y2="314.05" stroke="#000" stroke-width="1.0"/>
<line x1="309.2" y1="340.28" x2="311.4" y2="340.28" stroke="#000" stroke-width="1.0"/>
<line x1="327.91" y1="353.4" x2="327.91" y2="356.8" stroke="#000" stroke-width="1.1"/>
<line x1="360.94" y1="353.4" x2="360.94" y2="356.8" stroke="#000" stroke-width="1.1"/>
<line x1="393.97" y1="353.4" x2="393.97" y2="356.8" stroke="#000" stroke-width="1.1"/>
<line x1="427" y1="353.4" x2="427" y2="356.8" stroke="#000" stroke-width="1.1"/>
<line x1="460.03" y1="353.4" x2="460.03" y2="356.8" stroke="#000" stroke-width="1.1"/>
<line x1="493.06" y1="353.4" x2="493.06" y2="356.8" stroke="#000" stroke-width="1.1"/>
<line x1="526.09" y1="353.4" x2="526.09" y2="356.8" stroke="#000" stroke-width="1.1"/>
<line x1="344.43" y1="353.4" x2="344.43" y2="355.6" stroke="#000" stroke-width="1.0"/>
<line x1="377.46" y1="353.4" x2="377.46" y2="355.6" stroke="#000" stroke-width="1.0"/>
<line x1="410.49" y1="353.4" x2="410.49" y2="355.6" stroke="#000" stroke-width="1.0"/>
<line x1="443.51" y1="353.4" x2="443.51" y2="355.6" stroke="#000" stroke-width="1.0"/>
<line x1="476.54" y1="353.4" x2="476.54" y2="355.6" stroke="#000" stroke-width="1.0"/>
<line x1="509.57" y1="353.4" x2="509.57" y2="355.6" stroke="#000" stroke-width="1.0"/>
<path d="M327.91,330.21 L328.38,329.42 L328.84,329.28 L329.3,328.44 L329.76,329.29 L330.23,329.11 L330.69,328.96 L331.15,329.18 L331.61,329.14 L332.08,328.54 L332.54,328.53 L333,328.6 L333.46,328.93 L333.93,328.81 L334.39,328.08 L334.85,328.07 L335.31,328.64 L335.78,328.86 L336.24,328.22 L336.7,327.92 L337.16,328.46 L337.62,327.9 L338.09,328.18 L338.55,328.39 L339.01,328 L339.47,327.73 L339.94,327.88 L340.4,327.32 L340.86,327.41 L341.32,327.19 L341.79,327.25 L342.25,327.07 L342.51,327.13 L342.71,327.04 L343.17,327.15 L343.64,327.09 L344.1,327.11 L344.56,327.45 L345.02,326.36 L345.49,327.3 L345.95,326.71 L346.41,326.3 L346.87,326.62 L347.34,326.65 L347.8,326.94 L348.26,326.14 L348.72,326.53 L349.18,326.44 L349.65,325.76 L350.11,325.88 L350.57,326.45 L351.03,326.42 L351.5,326.51 L351.96,326.26 L352.42,326.15 L352.88,326 L353.35,326.33 L353.81,325.55 L354.27,325.74 L354.73,325.87 L355.2,325.13 L355.66,326.09 L356.12,325.29 L356.58,325.49 L356.72,326.25 L357.05,324.95 L357.51,324.68 L357.97,325.04 L358.43,323.75 L358.9,323.61 L359.36,323.57 L359.82,323.18 L360.28,322.86 L360.74,322.41 L361.21,322.38 L361.67,321.89 L362.13,321.38 L362.59,320.56 L363.06,319.92 L363.52,318.86 L363.98,319.14 L364.44,317.62 L364.91,317.93 L365.37,317.64 L365.83,315.99 L366.29,315.48 L366.76,314.92 L367.22,314.74 L367.55,313.7 L367.68,313.71 L368.14,312.72 L368.61,311.97 L369.07,311.66 L369.53,310.02 L369.99,309.53 L370.46,308.75 L370.92,308.1 L371.38,305.96 L371.84,305.39 L372.3,303.75 L372.77,302.51 L373.23,300.83 L373.69,298.83 L374.15,297.77 L374.62,296.06 L375.08,293.56 L375.54,291.3 L375.61,291.63 L376,288.27 L376.47,283.4 L376.93,280.01 L377.39,274.55 L377.85,270.45 L377.99,270.3 L378.32,267.38 L378.78,264.14 L379.17,261.08 L379.24,260.21 L379.7,255.84 L380.17,251.02 L380.63,245.79 L380.76,245.08 L381.09,241.81 L381.55,237.84 L382.02,232.25 L382.08,232.01 L382.48,227.99 L382.94,223.6 L383.01,223.58 L383.4,221.11 L383.53,220.14 L383.86,221.45 L384.19,222.77 L384.33,223.81 L384.79,229.86 L385.25,236.29 L385.71,241.85 L386.18,247.33 L386.31,248.83 L386.64,251.45 L387.1,254.46 L387.56,258.83 L388.03,262.12 L388.49,265.55 L388.95,268.55 L389.28,271.25 L389.41,272 L389.88,273.02 L390.34,273.86 L390.8,275.32 L391.26,276.58 L391.73,277.13 L391.99,277.81 L392.19,277.78 L392.65,277.88 L393.11,278.76 L393.38,278.78 L393.58,278.14 L394.04,276.26 L394.5,274.95 L394.96,273.94 L395.29,272.86 L395.42,272.43 L395.89,269.98 L396.35,268.3 L396.81,266.54 L396.88,266.14 L397.27,261.64 L397.74,255.82 L398.2,250.85 L398.6,245.87 L398.66,245.32 L399.12,237.87 L399.59,230.83 L400.05,225.17 L400.18,224.04 L400.51,227.34 L400.78,230.07 L400.97,234.9 L401.44,247.7 L401.9,259.5 L402.36,274.52 L402.82,287.95 L403.29,294.87 L403.75,301.57 L404.01,304.95 L404.21,306.09 L404.67,309.04 L405.14,312.06 L405.6,313.64 L406.06,316.27 L406.52,318.98 L406.98,319.66 L407.45,320.9 L407.91,322.6 L408.37,323.97 L408.83,325.09 L409.23,326.84 L409.3,326.28 L409.76,326.72 L410.22,327.4 L410.68,327.69 L411.15,326.79 L411.61,327.47 L412.07,328.26 L412.53,327.63 L413,328.04 L413.46,328.16 L413.79,328.32 L413.92,328.45 L414.38,329.06 L414.85,329.6 L415.31,329.85 L415.77,329.48 L416.23,328.94 L416.7,329.77 L417.16,329.82 L417.62,330.22 L418.08,330.21 L418.21,329.67 L418.54,330.53 L419.01,329.79 L419.47,330.4 L419.93,330.87 L420.39,331.01 L420.86,331.56 L421.32,330.31 L421.78,331.38 L422.24,331.62 L422.71,331.39 L423.17,331.86 L423.63,331.37 L424.09,332.11 L424.56,332.19 L425.02,331.79 L425.28,331.97 L425.48,332.08 L425.94,331.8 L426.41,332.28 L426.87,331.86 L427.33,332.14 L427.79,331.98 L428.26,331.47 L428.72,331.27 L429.18,330.89 L429.64,330.82 L430.04,330.72 L430.1,331.12 L430.57,330.69 L431.03,331.03 L431.49,331.07 L431.95,330.83 L432.42,330.93 L432.88,331.51 L433.34,331.56 L433.8,330.73 L434.27,330.93 L434.73,330.87 L435.19,330.9 L435.65,331.54 L436.12,331.24 L436.58,331.44 L437.04,331.62 L437.5,330.85 L437.97,330.93 L438.43,331.01 L438.89,331.36 L439.35,330.97 L439.82,331.23 L440.28,331.41 L440.74,331.41 L441.2,331.16 L441.66,330.72 L442.13,330.46 L442.59,331.39 L443.05,331.16 L443.51,330.67 L443.78,330.82 L443.98,330.81 L444.44,330.3 L444.9,330.9 L445.36,330.46 L445.83,330.56 L446.29,330.84 L446.75,330.47 L447.21,330.62 L447.68,330.5 L448.14,330.28 L448.6,330.21 L449.06,330.77 L449.53,329.98 L449.99,330.53 L450.45,329.57 L450.91,330.07 L450.98,329.86 L451.38,329.42 L451.84,328.59 L452.3,329.93 L452.76,328.82 L453.22,328.73 L453.69,328.96 L454.15,328.79 L454.61,328.72 L455.07,328.38 L455.54,327.79 L456,328.47 L456.46,327.7 L456.92,327.94 L457.39,327.92 L457.85,327.98 L458.05,327.42 L458.31,327.3 L458.77,327.16 L459.24,326.44 L459.7,326.66 L460.16,326.41 L460.62,326.19 L461.09,326.49 L461.55,326.16 L462.01,326.67 L462.47,326.47 L462.94,325.13 L463.4,325.67 L463.86,325.11 L464.32,325.5 L464.78,325.19 L465.18,325.33 L465.25,325.09 L465.71,325.13 L466.17,324.65 L466.63,323.76 L467.1,324.11 L467.56,324.1 L468.02,324.12 L468.48,323.82 L468.95,324.63 L469.41,323.88 L469.87,324.28 L470.33,323.59 L470.8,324.17 L471.26,323.06 L471.72,323.57 L472.18,322.78 L472.65,323.28 L473.11,323.57 L473.57,322.33 L474.03,322.48 L474.5,322.75 L474.76,322.53 L474.96,322.13 L475.42,323.02 L475.88,322.65 L476.34,323.09 L476.81,322.76 L477.27,322.26 L477.73,322.5 L478.19,323.17 L478.66,322.21 L479.12,322.54 L479.58,322.93 L480.04,323.08 L480.51,323.03 L480.97,322.23 L481.43,323.49 L481.89,322.71 L482.36,322.79 L482.82,322.79 L483.15,322.72 L483.28,322.48 L483.74,322.75 L484.21,323.37 L484.67,322.48 L485.13,322.16 L485.59,323.24 L486.06,323.22 L486.52,323.41 L486.98,323.81 L487.44,323 L487.9,323.36 L488.37,323.86 L488.83,324.5 L489.29,324.82 L489.75,324.55 L490.22,324.75 L490.68,325.52 L491.14,325.44 L491.6,326.78 L491.74,326.36 L492.07,326.62 L492.53,326.77 L492.99,327.96 L493.45,327.86 L493.92,327.96 L494.38,328.66 L494.84,328.75 L495.3,329.33 L495.77,329.92 L496.23,329.71 L496.69,330.16 L497.15,330.33 L497.62,330.75 L498.08,330.74 L498.54,330.73 L499,330.67 L499.46,331.18 L499.93,330.9 L500.39,331.67 L500.85,331.65 L501.31,332 L501.78,331.81 L502.24,331.9 L502.7,332.04 L503.16,332.93 L503.63,332.65 L504.09,332.83 L504.55,332.46 L505.01,333.25 L505.48,332.24 L505.94,334.12 L506.4,333.74 L506.86,334.01 L507.33,333.69 L507.79,333.99 L508.12,334.71 L508.25,334.47 L508.71,334.83 L509.18,335.27 L509.64,335.2 L510.1,334.44 L510.56,334.9 L511.02,334.99 L511.49,335.21 L511.95,334.94 L512.41,335.09 L512.87,335.69 L513.34,335.88 L513.8,336.41 L514.26,336.26 L514.72,337.01 L515.19,336.02 L515.65,336.31 L516.11,337.02 L516.57,336.98 L517.04,336.87 L517.5,337.63 L517.63,337.78 L517.96,337.87 L518.42,337.28 L518.89,337.43 L519.35,337.52 L519.81,337.47 L520.27,337.82 L520.74,337.3 L521.2,337.61 L521.66,336.72 L522.12,337.77 L522.58,338.09 L523.05,337.52 L523.51,337.9 L523.97,336.97 L524.43,337.44 L524.9,337.03 L525.36,337.7 L525.82,337.78 L526.02,337.12" fill="none" stroke="#000" stroke-width="1.25" stroke-linejoin="round" />
<line x1="45.9" y1="394" x2="274.15" y2="394" stroke="#8a8a8a" stroke-width="1.6"/>
<line x1="273.4" y1="393.2" x2="273.4" y2="548.7" stroke="#808080" stroke-width="1.5"/>
<line x1="48.9" y1="393.2" x2="48.9" y2="548.7" stroke="#808080" stroke-width="1.5"/>
<line x1="45.9" y1="547.9" x2="274.15" y2="547.9" stroke="#8a8a8a" stroke-width="1.6"/>
<line x1="45.9" y1="547.9" x2="48.9" y2="547.9" stroke="#444" stroke-width="1.0"/>
<line x1="45.9" y1="525.85" x2="48.9" y2="525.85" stroke="#444" stroke-width="1.0"/>
<line x1="45.9" y1="503.79" x2="48.9" y2="503.79" stroke="#444" stroke-width="1.0"/>
<line x1="45.9" y1="481.74" x2="48.9" y2="481.74" stroke="#444" stroke-width="1.0"/>
<line x1="45.9" y1="459.68" x2="48.9" y2="459.68" stroke="#444" stroke-width="1.0"/>
<line x1="45.9" y1="437.62" x2="48.9" y2="437.62" stroke="#444" stroke-width="1.0"/>
<line x1="45.9" y1="415.57" x2="48.9" y2="415.57" stroke="#444" stroke-width="1.0"/>
<line x1="45.9" y1="393.51" x2="48.9" y2="393.51" stroke="#444" stroke-width="1.0"/>
<line x1="47.3" y1="536.87" x2="48.9" y2="536.87" stroke="#444" stroke-width="1.0"/>
<line x1="47.3" y1="514.82" x2="48.9" y2="514.82" stroke="#444" stroke-width="1.0"/>
<line x1="47.3" y1="492.76" x2="48.9" y2="492.76" stroke="#444" stroke-width="1.0"/>
<line x1="47.3" y1="470.71" x2="48.9" y2="470.71" stroke="#444" stroke-width="1.0"/>
<line x1="47.3" y1="448.65" x2="48.9" y2="448.65" stroke="#444" stroke-width="1.0"/>
<line x1="47.3" y1="426.6" x2="48.9" y2="426.6" stroke="#444" stroke-width="1.0"/>
<line x1="47.3" y1="404.54" x2="48.9" y2="404.54" stroke="#444" stroke-width="1.0"/>
<line x1="67.9" y1="547.9" x2="67.9" y2="550.9" stroke="#444" stroke-width="1.0"/>
<line x1="105.34" y1="547.9" x2="105.34" y2="550.9" stroke="#444" stroke-width="1.0"/>
<line x1="142.78" y1="547.9" x2="142.78" y2="550.9" stroke="#444" stroke-width="1.0"/>
<line x1="180.22" y1="547.9" x2="180.22" y2="550.9" stroke="#444" stroke-width="1.0"/>
<line x1="217.66" y1="547.9" x2="217.66" y2="550.9" stroke="#444" stroke-width="1.0"/>
<line x1="255.1" y1="547.9" x2="255.1" y2="550.9" stroke="#444" stroke-width="1.0"/>
<line x1="86.62" y1="547.9" x2="86.62" y2="549.5" stroke="#444" stroke-width="1.0"/>
<line x1="124.06" y1="547.9" x2="124.06" y2="549.5" stroke="#444" stroke-width="1.0"/>
<line x1="161.5" y1="547.9" x2="161.5" y2="549.5" stroke="#444" stroke-width="1.0"/>
<line x1="198.94" y1="547.9" x2="198.94" y2="549.5" stroke="#444" stroke-width="1.0"/>
<line x1="236.38" y1="547.9" x2="236.38" y2="549.5" stroke="#444" stroke-width="1.0"/>
<path d="M67.9,504.5 L68,502 L68.1,499.5 L68.3,497 L68.6,494.6 L69.6,490.5 L76.8,476.4 L81.4,472.4 L86.3,468.2 L95.9,464 L105,460.9 L114.5,458.7 L123.2,456.9 L132.8,454.9 L142.3,453.3 L151.8,451.1 L161.5,449.4 L170.5,447.5 L180,445.8 L189.4,443.7 L198.9,441.3 L208.3,439 L217.1,436.8 L226.5,434 L236,430.5 L240.7,428.1 L244.3,425.3 L246.8,423.2 L249,421 L250.5,418.5 L251.4,416.3 L252.5,410.4" fill="none" stroke="#111" stroke-width="0.9" stroke-linejoin="round" />
<g fill="#000"><rect x="66" y="502.6" width="3.8" height="3.8"/><rect x="66.1" y="500.1" width="3.8" height="3.8"/><rect x="66.2" y="497.6" width="3.8" height="3.8"/><rect x="66.4" y="495.1" width="3.8" height="3.8"/><rect x="66.7" y="492.7" width="3.8" height="3.8"/><rect x="67.7" y="488.6" width="3.8" height="3.8"/><rect x="74.9" y="474.5" width="3.8" height="3.8"/><rect x="79.5" y="470.5" width="3.8" height="3.8"/><rect x="84.4" y="466.3" width="3.8" height="3.8"/><rect x="94" y="462.1" width="3.8" height="3.8"/><rect x="103.1" y="459" width="3.8" height="3.8"/><rect x="112.6" y="456.8" width="3.8" height="3.8"/><rect x="121.3" y="455" width="3.8" height="3.8"/><rect x="130.9" y="453" width="3.8" height="3.8"/><rect x="140.4" y="451.4" width="3.8" height="3.8"/><rect x="149.9" y="449.2" width="3.8" height="3.8"/><rect x="159.6" y="447.5" width="3.8" height="3.8"/><rect x="168.6" y="445.6" width="3.8" height="3.8"/><rect x="178.1" y="443.9" width="3.8" height="3.8"/><rect x="187.5" y="441.8" width="3.8" height="3.8"/><rect x="197" y="439.4" width="3.8" height="3.8"/><rect x="206.4" y="437.1" width="3.8" height="3.8"/><rect x="215.2" y="434.9" width="3.8" height="3.8"/><rect x="224.6" y="432.1" width="3.8" height="3.8"/><rect x="234.1" y="428.6" width="3.8" height="3.8"/><rect x="238.8" y="426.2" width="3.8" height="3.8"/><rect x="242.4" y="423.4" width="3.8" height="3.8"/><rect x="244.9" y="421.3" width="3.8" height="3.8"/><rect x="247.1" y="419.1" width="3.8" height="3.8"/><rect x="248.6" y="416.6" width="3.8" height="3.8"/><rect x="249.5" y="414.4" width="3.8" height="3.8"/><rect x="250.6" y="408.5" width="3.8" height="3.8"/></g>
<path d="M67.7,508.7 L69.2,492.7 L72.3,483.6 L76.8,475.1 L81.7,469.5 L86.3,465.5 L95.4,461.5 L105,456.4 L114.1,453.3 L123.7,450.5 L133.2,448.2 L142.3,445.8 L151.6,443.4 L161.5,439.9 L170.5,437.5 L180,435.2 L189.4,432.8 L198.9,431.2 L208.3,429.3 L217.1,426.9 L226.5,424.8 L236,422.7 L240.7,421 L244.3,419.8 L247.1,418.6 L249,416.7 L250.6,415.1 L251.8,412" fill="none" stroke="#f00" stroke-width="0.9" stroke-linejoin="round" />
<g fill="#f00"><circle cx="67.7" cy="508.7" r="2.3"/><circle cx="69.2" cy="492.7" r="2.3"/><circle cx="72.3" cy="483.6" r="2.3"/><circle cx="76.8" cy="475.1" r="2.3"/><circle cx="81.7" cy="469.5" r="2.3"/><circle cx="86.3" cy="465.5" r="2.3"/><circle cx="95.4" cy="461.5" r="2.3"/><circle cx="105" cy="456.4" r="2.3"/><circle cx="114.1" cy="453.3" r="2.3"/><circle cx="123.7" cy="450.5" r="2.3"/><circle cx="133.2" cy="448.2" r="2.3"/><circle cx="142.3" cy="445.8" r="2.3"/><circle cx="151.6" cy="443.4" r="2.3"/><circle cx="161.5" cy="439.9" r="2.3"/><circle cx="170.5" cy="437.5" r="2.3"/><circle cx="180" cy="435.2" r="2.3"/><circle cx="189.4" cy="432.8" r="2.3"/><circle cx="198.9" cy="431.2" r="2.3"/><circle cx="208.3" cy="429.3" r="2.3"/><circle cx="217.1" cy="426.9" r="2.3"/><circle cx="226.5" cy="424.8" r="2.3"/><circle cx="236" cy="422.7" r="2.3"/><circle cx="240.7" cy="421" r="2.3"/><circle cx="244.3" cy="419.8" r="2.3"/><circle cx="247.1" cy="418.6" r="2.3"/><circle cx="249" cy="416.7" r="2.3"/><circle cx="250.6" cy="415.1" r="2.3"/><circle cx="251.8" cy="412" r="2.3"/></g>
<line x1="181.3" y1="513.6" x2="201.3" y2="513.6" stroke="#111" stroke-width="1"/>
<rect x="189.6" y="511.7" width="3.8" height="3.8" fill="#000"/>
<line x1="181.3" y1="526.9" x2="201.3" y2="526.9" stroke="#f00" stroke-width="1"/>
<circle cx="191.5" cy="526.9" r="2.3" fill="#f00"/>
<line x1="316.7" y1="394" x2="545.25" y2="394" stroke="#8a8a8a" stroke-width="1.6"/>
<line x1="544.5" y1="393.2" x2="544.5" y2="548.5" stroke="#808080" stroke-width="1.5"/>
<line x1="319.7" y1="393.2" x2="319.7" y2="548.5" stroke="#808080" stroke-width="1.5"/>
<line x1="316.7" y1="547.7" x2="545.25" y2="547.7" stroke="#8a8a8a" stroke-width="1.6"/>
<line x1="316.7" y1="538.4" x2="319.7" y2="538.4" stroke="#444" stroke-width="1.0"/>
<line x1="316.7" y1="520.3" x2="319.7" y2="520.3" stroke="#444" stroke-width="1.0"/>
<line x1="316.7" y1="502.2" x2="319.7" y2="502.2" stroke="#444" stroke-width="1.0"/>
<line x1="316.7" y1="484.1" x2="319.7" y2="484.1" stroke="#444" stroke-width="1.0"/>
<line x1="316.7" y1="466" x2="319.7" y2="466" stroke="#444" stroke-width="1.0"/>
<line x1="316.7" y1="447.9" x2="319.7" y2="447.9" stroke="#444" stroke-width="1.0"/>
<line x1="316.7" y1="429.8" x2="319.7" y2="429.8" stroke="#444" stroke-width="1.0"/>
<line x1="316.7" y1="411.7" x2="319.7" y2="411.7" stroke="#444" stroke-width="1.0"/>
<line x1="316.7" y1="393.6" x2="319.7" y2="393.6" stroke="#444" stroke-width="1.0"/>
<line x1="318.1" y1="529.35" x2="319.7" y2="529.35" stroke="#444" stroke-width="1.0"/>
<line x1="318.1" y1="511.25" x2="319.7" y2="511.25" stroke="#444" stroke-width="1.0"/>
<line x1="318.1" y1="493.15" x2="319.7" y2="493.15" stroke="#444" stroke-width="1.0"/>
<line x1="318.1" y1="475.05" x2="319.7" y2="475.05" stroke="#444" stroke-width="1.0"/>
<line x1="318.1" y1="456.95" x2="319.7" y2="456.95" stroke="#444" stroke-width="1.0"/>
<line x1="318.1" y1="438.85" x2="319.7" y2="438.85" stroke="#444" stroke-width="1.0"/>
<line x1="318.1" y1="420.75" x2="319.7" y2="420.75" stroke="#444" stroke-width="1.0"/>
<line x1="318.1" y1="402.65" x2="319.7" y2="402.65" stroke="#444" stroke-width="1.0"/>
<line x1="333.8" y1="547.7" x2="333.8" y2="550.7" stroke="#444" stroke-width="1.0"/>
<line x1="361.8" y1="547.7" x2="361.8" y2="550.7" stroke="#444" stroke-width="1.0"/>
<line x1="389.8" y1="547.7" x2="389.8" y2="550.7" stroke="#444" stroke-width="1.0"/>
<line x1="417.8" y1="547.7" x2="417.8" y2="550.7" stroke="#444" stroke-width="1.0"/>
<line x1="445.8" y1="547.7" x2="445.8" y2="550.7" stroke="#444" stroke-width="1.0"/>
<line x1="473.8" y1="547.7" x2="473.8" y2="550.7" stroke="#444" stroke-width="1.0"/>
<line x1="501.8" y1="547.7" x2="501.8" y2="550.7" stroke="#444" stroke-width="1.0"/>
<line x1="529.8" y1="547.7" x2="529.8" y2="550.7" stroke="#444" stroke-width="1.0"/>
<line x1="347.8" y1="547.7" x2="347.8" y2="549.3" stroke="#444" stroke-width="1.0"/>
<line x1="375.8" y1="547.7" x2="375.8" y2="549.3" stroke="#444" stroke-width="1.0"/>
<line x1="403.8" y1="547.7" x2="403.8" y2="549.3" stroke="#444" stroke-width="1.0"/>
<line x1="431.8" y1="547.7" x2="431.8" y2="549.3" stroke="#444" stroke-width="1.0"/>
<line x1="459.8" y1="547.7" x2="459.8" y2="549.3" stroke="#444" stroke-width="1.0"/>
<line x1="487.8" y1="547.7" x2="487.8" y2="549.3" stroke="#444" stroke-width="1.0"/>
<line x1="515.8" y1="547.7" x2="515.8" y2="549.3" stroke="#444" stroke-width="1.0"/>
<line x1="543.8" y1="547.7" x2="543.8" y2="549.3" stroke="#444" stroke-width="1.0"/>
<path d="M339.9,425.3 L339.9,429.2 L339.9,448.3 L339.6,459.7 L340.8,462 L340.3,465.5 L338.4,483.6 L339,488 L341,488 L341.6,514.4 L342.4,528 L343.6,533 L344.4,534 L345,514.4 L346.1,432.2 L346.5,437.9 L347,451.7 L347.2,463.2 L346.5,471.2 L346,475.6 L348.4,483 L349,496 L349.4,508.4 L350,518 L352,515 L353,520 L354,523 L356,514 L356.6,507 L357,494 L358.4,486.4 L359.6,490 L360.4,493 L361.6,501 L362.4,510 L364,502 L366,503 L368,502 L370,504.4 L372,500 L374,504 L376,506 L378,506.4 L379.6,510 L381.6,514.4 L383.6,513.6 L386,510 L388,512 L390,515 L393,516.4 L396,514.4 L398.4,512.4 L400,514 L401.6,518 L404.4,520 L407,521.4 L409.6,523 L412.4,525 L415.6,518 L418,511.6 L421,512.4 L424,513.6 L427.6,515 L431,512.3 L434.2,506.4 L437.9,508.5 L441.5,509.8 L445.1,501.8 L449.2,506.4 L453,512.3 L457.2,507.7 L461.4,511.9 L466,518.5 L470.8,513.9 L475.6,505 L480.2,507 L485.4,510.8 L490.6,512.9 L496.5,512.9 L502.1,512.9 L507.8,517.5 L513.6,497.2 L520.3,476.3" fill="none" stroke="#f22" stroke-width="0.7" stroke-linejoin="round" />
<g fill="#f00"><circle cx="339.9" cy="425.3" r="2.2"/><circle cx="339.9" cy="429.2" r="2.2"/><circle cx="339.9" cy="448.3" r="2.2"/><circle cx="339.6" cy="459.7" r="2.2"/><circle cx="340.8" cy="462" r="2.2"/><circle cx="340.3" cy="465.5" r="2.2"/><circle cx="338.4" cy="483.6" r="2.2"/><circle cx="339" cy="488" r="2.2"/><circle cx="341" cy="488" r="2.2"/><circle cx="341.6" cy="514.4" r="2.2"/><circle cx="342.4" cy="528" r="2.2"/><circle cx="343.6" cy="533" r="2.2"/><circle cx="344.4" cy="534" r="2.2"/><circle cx="345" cy="514.4" r="2.2"/><circle cx="346.1" cy="432.2" r="2.2"/><circle cx="346.5" cy="437.9" r="2.2"/><circle cx="347" cy="451.7" r="2.2"/><circle cx="347.2" cy="463.2" r="2.2"/><circle cx="346.5" cy="471.2" r="2.2"/><circle cx="346" cy="475.6" r="2.2"/><circle cx="348.4" cy="483" r="2.2"/><circle cx="349" cy="496" r="2.2"/><circle cx="349.4" cy="508.4" r="2.2"/><circle cx="350" cy="518" r="2.2"/><circle cx="352" cy="515" r="2.2"/><circle cx="353" cy="520" r="2.2"/><circle cx="354" cy="523" r="2.2"/><circle cx="356" cy="514" r="2.2"/><circle cx="356.6" cy="507" r="2.2"/><circle cx="357" cy="494" r="2.2"/><circle cx="358.4" cy="486.4" r="2.2"/><circle cx="359.6" cy="490" r="2.2"/><circle cx="360.4" cy="493" r="2.2"/><circle cx="361.6" cy="501" r="2.2"/><circle cx="362.4" cy="510" r="2.2"/><circle cx="364" cy="502" r="2.2"/><circle cx="366" cy="503" r="2.2"/><circle cx="368" cy="502" r="2.2"/><circle cx="370" cy="504.4" r="2.2"/><circle cx="372" cy="500" r="2.2"/><circle cx="374" cy="504" r="2.2"/><circle cx="376" cy="506" r="2.2"/><circle cx="378" cy="506.4" r="2.2"/><circle cx="379.6" cy="510" r="2.2"/><circle cx="381.6" cy="514.4" r="2.2"/><circle cx="383.6" cy="513.6" r="2.2"/><circle cx="386" cy="510" r="2.2"/><circle cx="388" cy="512" r="2.2"/><circle cx="390" cy="515" r="2.2"/><circle cx="393" cy="516.4" r="2.2"/><circle cx="396" cy="514.4" r="2.2"/><circle cx="398.4" cy="512.4" r="2.2"/><circle cx="400" cy="514" r="2.2"/><circle cx="401.6" cy="518" r="2.2"/><circle cx="404.4" cy="520" r="2.2"/><circle cx="407" cy="521.4" r="2.2"/><circle cx="409.6" cy="523" r="2.2"/><circle cx="412.4" cy="525" r="2.2"/><circle cx="415.6" cy="518" r="2.2"/><circle cx="418" cy="511.6" r="2.2"/><circle cx="421" cy="512.4" r="2.2"/><circle cx="424" cy="513.6" r="2.2"/><circle cx="427.6" cy="515" r="2.2"/><circle cx="431" cy="512.3" r="2.2"/><circle cx="434.2" cy="506.4" r="2.2"/><circle cx="437.9" cy="508.5" r="2.2"/><circle cx="441.5" cy="509.8" r="2.2"/><circle cx="445.1" cy="501.8" r="2.2"/><circle cx="449.2" cy="506.4" r="2.2"/><circle cx="453" cy="512.3" r="2.2"/><circle cx="457.2" cy="507.7" r="2.2"/><circle cx="461.4" cy="511.9" r="2.2"/><circle cx="466" cy="518.5" r="2.2"/><circle cx="470.8" cy="513.9" r="2.2"/><circle cx="475.6" cy="505" r="2.2"/><circle cx="480.2" cy="507" r="2.2"/><circle cx="485.4" cy="510.8" r="2.2"/><circle cx="490.6" cy="512.9" r="2.2"/><circle cx="496.5" cy="512.9" r="2.2"/><circle cx="502.1" cy="512.9" r="2.2"/><circle cx="507.8" cy="517.5" r="2.2"/><circle cx="513.6" cy="497.2" r="2.2"/><circle cx="520.3" cy="476.3" r="2.2"/></g>
<text id="tA" transform="translate(32.12 37.62) scale(0.9347 1)" font-size="34.01" font-weight="bold" fill="#fff">A</text>
<text id="tB" transform="translate(294.50 38.06) scale(1.0133 1)" font-size="32.94" font-weight="bold" fill="#fff">B</text>
<text id="t200" transform="translate(215.18 162.07) scale(1.1200 1)" font-size="18.01" font-weight="bold" fill="#fff" stroke="#fff" stroke-width="0.28" letter-spacing="-0.447">200 nm</text>
<text id="t50" transform="translate(482.59 162.24) scale(1.1200 1)" font-size="17.88" font-weight="bold" fill="#fff" stroke="#fff" stroke-width="0.28" letter-spacing="-0.141">50 nm</text>
<text id="cl10" transform="translate(39.72 366.90) scale(1.2500 1)" font-size="10.54" font-weight="bold" fill="#000" stroke="#000" stroke-width="0.28" letter-spacing="-0.400">10</text>
<text id="cl20" transform="translate(72.98 366.08) scale(1.2500 1)" font-size="10.54" font-weight="bold" fill="#000" stroke="#000" stroke-width="0.28" letter-spacing="-0.801">20</text>
<text id="cl30" transform="translate(105.36 366.33) scale(1.2500 1)" font-size="10.54" font-weight="bold" fill="#000" stroke="#000" stroke-width="0.28" letter-spacing="-0.766">30</text>
<text id="cl40" transform="translate(138.45 366.27) scale(1.2500 1)" font-size="10.54" font-weight="bold" fill="#000" stroke="#000" stroke-width="0.28" letter-spacing="-1.049">40</text>
<text id="cl50" transform="translate(170.62 366.60) scale(1.2500 1)" font-size="10.54" font-weight="bold" fill="#000" stroke="#000" stroke-width="0.28" letter-spacing="-0.615">50</text>
<text id="cl60" transform="translate(203.24 366.36) scale(1.2500 1)" font-size="10.54" font-weight="bold" fill="#000" stroke="#000" stroke-width="0.28" letter-spacing="-0.641">60</text>
<text id="cl70" transform="translate(235.70 366.57) scale(1.2500 1)" font-size="10.54" font-weight="bold" fill="#000" stroke="#000" stroke-width="0.28" letter-spacing="-0.740">70</text>
<text id="cl80" transform="translate(268.62 366.01) scale(1.2500 1)" font-size="10.54" font-weight="bold" fill="#000" stroke="#000" stroke-width="0.28" letter-spacing="-1.107">80</text>
<text id="cX" transform="translate(102.49 379.46) scale(1.1200 1)" font-size="12.17" font-weight="bold" fill="#000" stroke="#000" stroke-width="0.28" letter-spacing="0.830">2 Theta/(Degree)</text>
<text id="cY" transform="translate(32.03 302.12) rotate(-90) scale(1.1200 1)" font-size="12.54" font-weight="bold" fill="#000" stroke="#000" stroke-width="0.28" letter-spacing="-0.199">Intensity</text>
<text id="cC" transform="translate(49.27 227.90) scale(1.0393 1)" font-size="35.26" font-weight="bold" fill="#000">C</text>
<text id="c002" transform="translate(83.25 265.78) scale(1.1200 1)" font-size="12.44" font-weight="bold" fill="#000" stroke="#000" stroke-width="0.28" letter-spacing="0.745">(002)</text>
<text id="c101" transform="translate(145.54 302.78) scale(1.1200 1)" font-size="12.03" font-weight="bold" fill="#000" stroke="#000" stroke-width="0.28" letter-spacing="1.030">(101)</text>
<text id="dl500" transform="translate(318.96 367.01) scale(1.2500 1)" font-size="9.69" font-weight="bold" fill="#000" stroke="#000" stroke-width="0.28" letter-spacing="-0.084">500</text>
<text id="dl1000" transform="translate(347.98 366.58) scale(1.2500 1)" font-size="9.69" font-weight="bold" fill="#000" stroke="#000" stroke-width="0.28" letter-spacing="0.252">1000</text>
<text id="dl1500" transform="translate(381.13 366.57) scale(1.2500 1)" font-size="9.69" font-weight="bold" fill="#000" stroke="#000" stroke-width="0.28" letter-spacing="0.233">1500</text>
<text id="dl2000" transform="translate(414.89 366.41) scale(1.2500 1)" font-size="9.69" font-weight="bold" fill="#000" stroke="#000" stroke-width="0.28" letter-spacing="0.019">2000</text>
<text id="dl2500" transform="translate(447.94 366.43) scale(1.2500 1)" font-size="9.69" font-weight="bold" fill="#000" stroke="#000" stroke-width="0.28" letter-spacing="0.005">2500</text>
<text id="dl3000" transform="translate(480.95 366.12) scale(1.2500 1)" font-size="9.69" font-weight="bold" fill="#000" stroke="#000" stroke-width="0.28" letter-spacing="0.015">3000</text>
<text id="dl3500" transform="translate(513.96 366.82) scale(1.2500 1)" font-size="9.69" font-weight="bold" fill="#000" stroke="#000" stroke-width="0.28" letter-spacing="0.076">3500</text>
<text id="dX" transform="translate(376.53 382.81) scale(1.1200 1)" font-size="13.66" font-weight="bold" fill="#000" stroke="#000" stroke-width="0.28" letter-spacing="0.211">Raman shift/cm<tspan font-size="0.93em" dy="-0.17em">-1</tspan></text>
<text id="dY" transform="translate(295.08 299.12) rotate(-90) scale(1.1200 1)" font-size="12.15" font-weight="bold" fill="#000" stroke="#000" stroke-width="0.28" letter-spacing="-0.073">Intensity</text>
<text id="dD" transform="translate(317.66 225.38) scale(1.0252 1)" font-size="32.16" font-weight="bold" fill="#000">D</text>
<text id="dDs" transform="translate(376.27 215.96) scale(1.4465 1)" font-size="11.12" font-weight="bold" fill="#000" stroke="#000" stroke-width="0.28">D</text>
<text id="dG" transform="translate(398.76 215.64) scale(1.4255 1)" font-size="11.24" font-weight="bold" fill="#000" stroke="#000" stroke-width="0.28">G</text>
<text id="ey100" transform="translate(24.00 550.58) scale(1.2500 1)" font-size="9.53" font-weight="bold" fill="#000" stroke="#000" stroke-width="0.28" letter-spacing="0.271">100</text>
<text id="ey150" transform="translate(23.95 528.77) scale(1.2500 1)" font-size="9.53" font-weight="bold" fill="#000" stroke="#000" stroke-width="0.28" letter-spacing="0.222">150</text>
<text id="ey200" transform="translate(24.71 507.08) scale(1.2500 1)" font-size="9.53" font-weight="bold" fill="#000" stroke="#000" stroke-width="0.28" letter-spacing="0.016">200</text>
<text id="ey250" transform="translate(24.70 484.84) scale(1.2500 1)" font-size="9.53" font-weight="bold" fill="#000" stroke="#000" stroke-width="0.28" letter-spacing="-0.060">250</text>
<text id="ey300" transform="translate(24.67 462.46) scale(1.2500 1)" font-size="9.53" font-weight="bold" fill="#000" stroke="#000" stroke-width="0.28" letter-spacing="0.043">300</text>
<text id="ey350" transform="translate(24.67 440.74) scale(1.2500 1)" font-size="9.53" font-weight="bold" fill="#000" stroke="#000" stroke-width="0.28" letter-spacing="-0.003">350</text>
<text id="ey400" transform="translate(24.98 418.66) scale(1.2500 1)" font-size="9.53" font-weight="bold" fill="#000" stroke="#000" stroke-width="0.28" letter-spacing="-0.074">400</text>
<text id="ey450" transform="translate(25.04 396.85) scale(1.2500 1)" font-size="9.53" font-weight="bold" fill="#000" stroke="#000" stroke-width="0.28" letter-spacing="-0.220">450</text>
<text id="ex0" transform="translate(60.50 560.48) scale(1.2500 1)" font-size="9.53" font-weight="bold" fill="#000" stroke="#000" stroke-width="0.28" letter-spacing="0.040">0.0</text>
<text id="ex2" transform="translate(97.88 561.19) scale(1.2500 1)" font-size="9.53" font-weight="bold" fill="#000" stroke="#000" stroke-width="0.28" letter-spacing="0.015">0.2</text>
<text id="ex4" transform="translate(135.47 560.47) scale(1.2500 1)" font-size="9.53" font-weight="bold" fill="#000" stroke="#000" stroke-width="0.28" letter-spacing="-0.077">0.4</text>
<text id="ex6" transform="translate(172.73 561.01) scale(1.2500 1)" font-size="9.53" font-weight="bold" fill="#000" stroke="#000" stroke-width="0.28" letter-spacing="0.076">0.6</text>
<text id="ex8" transform="translate(210.26 560.85) scale(1.2500 1)" font-size="9.53" font-weight="bold" fill="#000" stroke="#000" stroke-width="0.28" letter-spacing="-0.019">0.8</text>
<text id="ex10" transform="translate(246.75 561.37) scale(1.2500 1)" font-size="9.53" font-weight="bold" fill="#000" stroke="#000" stroke-width="0.28" letter-spacing="0.425">1.0</text>
<text id="eX" transform="translate(82.36 579.78) scale(1.1200 1)" font-size="12.78" font-weight="bold" fill="#000" stroke="#000" stroke-width="0.28" letter-spacing="0.423">Relative Pressure/(P/P<tspan font-size="0.62em" dy="0.33em">0</tspan><tspan dy="-0.2em">)</tspan></text>
<text id="eY" transform="translate(14.95 545.00) rotate(-90) scale(1.1200 1)" font-size="12.27" font-weight="bold" fill="#000" stroke="#000" stroke-width="0.28" letter-spacing="-0.229">Quantity adsorbed/(cm<tspan font-size="0.56em" dy="-0.85em">3</tspan><tspan dy="0.476em">/g)</tspan></text>
<text id="eE" transform="translate(53.82 427.83) scale(0.9801 1)" font-size="33.02" font-weight="bold" fill="#000">E</text>
<text id="eAbs" transform="translate(205.07 516.53) scale(1.1200 1)" font-size="9.95" font-weight="bold" fill="#000" stroke="#000" stroke-width="0.28" letter-spacing="0.253">Absorption</text>
<text id="eDes" transform="translate(204.98 528.76) scale(1.1200 1)" font-size="9.49" font-weight="bold" fill="#000" stroke="#000" stroke-width="0.28" letter-spacing="0.533">Desorption</text>
<text id="fy0" transform="translate(298.93 541.61) scale(1.2500 1)" font-size="9.87" font-weight="bold" fill="#000" stroke="#000" stroke-width="0.28" letter-spacing="-0.383">0.0</text>
<text id="fy1" transform="translate(298.92 523.72) scale(1.2500 1)" font-size="9.87" font-weight="bold" fill="#000" stroke="#000" stroke-width="0.28" letter-spacing="-0.125">0.1</text>
<text id="fy2" transform="translate(298.92 505.06) scale(1.2500 1)" font-size="9.87" font-weight="bold" fill="#000" stroke="#000" stroke-width="0.28" letter-spacing="-0.297">0.2</text>
<text id="fy3" transform="translate(298.92 487.34) scale(1.2500 1)" font-size="9.87" font-weight="bold" fill="#000" stroke="#000" stroke-width="0.28" letter-spacing="-0.269">0.3</text>
<text id="fy4" transform="translate(298.84 469.61) scale(1.2500 1)" font-size="9.87" font-weight="bold" fill="#000" stroke="#000" stroke-width="0.28" letter-spacing="-0.337">0.4</text>
<text id="fy5" transform="translate(298.92 451.37) scale(1.2500 1)" font-size="9.87" font-weight="bold" fill="#000" stroke="#000" stroke-width="0.28" letter-spacing="-0.240">0.5</text>
<text id="fy6" transform="translate(298.85 432.71) scale(1.2500 1)" font-size="9.87" font-weight="bold" fill="#000" stroke="#000" stroke-width="0.28" letter-spacing="-0.305">0.6</text>
<text id="fy7" transform="translate(298.84 414.69) scale(1.2500 1)" font-size="9.87" font-weight="bold" fill="#000" stroke="#000" stroke-width="0.28" letter-spacing="-0.319">0.7</text>
<text id="fy8" transform="translate(298.85 397.34) scale(1.2500 1)" font-size="9.87" font-weight="bold" fill="#000" stroke="#000" stroke-width="0.28" letter-spacing="-0.332">0.8</text>
<text id="fx0" transform="translate(331.39 561.09) scale(1.0565 1)" font-size="9.87" font-weight="bold" fill="#000" stroke="#000" stroke-width="0.28">0</text>
<text id="fx5" transform="translate(359.30 561.51) scale(1.0821 1)" font-size="9.87" font-weight="bold" fill="#000" stroke="#000" stroke-width="0.28">5</text>
<text id="fx10" transform="translate(383.26 561.00) scale(1.2500 1)" font-size="9.87" font-weight="bold" fill="#000" stroke="#000" stroke-width="0.28" letter-spacing="0.074">10</text>
<text id="fx15" transform="translate(411.26 560.69) scale(1.2500 1)" font-size="9.87" font-weight="bold" fill="#000" stroke="#000" stroke-width="0.28" letter-spacing="0.126">15</text>
<text id="fx20" transform="translate(440.09 561.07) scale(1.2500 1)" font-size="9.87" font-weight="bold" fill="#000" stroke="#000" stroke-width="0.28" letter-spacing="-0.556">20</text>
<text id="fx25" transform="translate(468.14 561.14) scale(1.2500 1)" font-size="9.87" font-weight="bold" fill="#000" stroke="#000" stroke-width="0.28" letter-spacing="-0.517">25</text>
<text id="fx30" transform="translate(495.92 560.65) scale(1.2500 1)" font-size="9.87" font-weight="bold" fill="#000" stroke="#000" stroke-width="0.28" letter-spacing="-0.469">30</text>
<text id="fx35" transform="translate(523.84 561.40) scale(1.2500 1)" font-size="9.87" font-weight="bold" fill="#000" stroke="#000" stroke-width="0.28" letter-spacing="-0.383">35</text>
<text id="fX" transform="translate(390.86 579.47) scale(1.1200 1)" font-size="11.94" font-weight="bold" fill="#000" stroke="#000" stroke-width="0.28" letter-spacing="0.735">Pore size/nm</text>
<text id="fY" transform="translate(292.95 521.22) rotate(-90) scale(1.1200 1)" font-size="12.67" font-weight="bold" fill="#000" stroke="#000" stroke-width="0.28" letter-spacing="-0.444">dv/dr (cm<tspan font-size="0.56em" dy="-0.85em">3</tspan><tspan dy="0.476em">/g · nm)</tspan></text>
<text id="fF" transform="translate(325.87 424.44) scale(0.9646 1)" font-size="32.32" font-weight="bold" fill="#000">F</text>
</svg>
</body></html>
